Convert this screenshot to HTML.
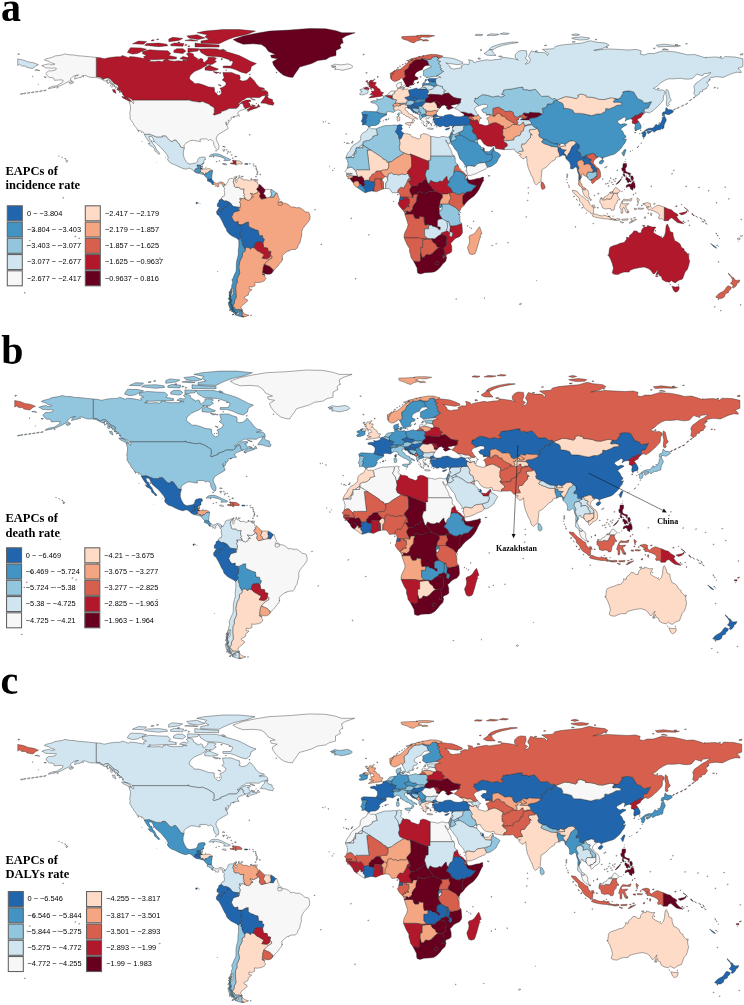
<!DOCTYPE html>
<html><head><meta charset="utf-8"><title>EAPC maps</title>
<style>
html,body{margin:0;padding:0;background:#fff}
body{width:744px;height:1005px;position:relative;overflow:hidden;font-family:"Liberation Sans",sans-serif}
svg{position:absolute;left:0;top:0}
.m use{stroke:#262626;stroke-width:0.4;stroke-linejoin:round}
</style></head><body>
<svg class="m" width="744" height="1005" viewBox="0 0 744 1005">
<defs>
<path id="AFG" fill-rule="evenodd" d="M510.2 126.5L507.2 127.6L505.8 128.8L503.6 128L502.4 130.7L503 132.3L502.4 133.4L503.2 136.5L504.8 136.9L503 139.9L506.2 140.8L513.9 140L514.1 137.7L517.3 136.1L519.9 135.6L521.1 133.2L521.3 131.5L523.3 131.1L523.7 129.2L524.5 126.5L527.4 125.5L530.6 125.1L531.2 124.6L528.4 124.2L526.4 125.1L524.3 125.1L523.9 122.4L522.3 122.6L521.7 123.8L519.9 124.9L516.9 124.6L514.3 124.2L512.3 124.6Z"/>
<path id="AGO" fill-rule="evenodd" d="M406.1 210.9L403.8 211.3L404.5 212.2L404.9 213.8L406.5 213.8L406.5 211.3ZM417.4 237.9L422.6 238.9L427.4 238.3L424.6 235.4L424.6 228.8L428.7 228.8L428.7 224.4L425 225L424.2 221.5L424.2 216.9L419.4 216.3L419.2 218.4L415.8 218.6L414.5 217.4L413.5 214L407.1 214L404.9 214.2L405.5 216.3L406.9 220.5L408.1 224.6L407.3 227.7L405.1 231.9L404.1 235L404.1 237.7L407.5 237.9L408.5 237.9Z"/>
<path id="ALB" fill-rule="evenodd" d="M422.6 117.1L421.6 115.7L421.8 114.9L420.6 113.7L419.4 114.9L419.2 115L419.6 115.7L419.4 117.8L420.4 119L420.7 119.4L421.6 118.6Z"/>
<path id="ARE" fill-rule="evenodd" d="M486.3 154.3L491.5 154.7L492.5 152L493.1 150.2L493.9 150.2L494.1 149.9L493.9 148.9L493.8 148.4L493.3 148.3L493.3 147.7L492.1 148.9L489.1 151.8L486.1 151.6L484.3 151.4L484.3 151.6Z"/>
<path id="ARG" fill-rule="evenodd" d="M248.9 247.6L246.9 247L244.9 249.1L245.3 249.5L244.7 251.6L242.5 252.6L242.3 256.3L239.9 260.9L239.3 264L238.7 267.1L239.3 270.2L239.7 272.7L238.3 276.5L237.1 278.5L237.3 282.3L235.9 284.8L235.7 288.9L235.9 293.1L236.3 297.2L234.6 300.3L234.2 303.4L232.4 306.5L234.6 307.6L235.2 309.6L239.3 309.6L242.5 310.3L240.9 307.6L241.5 306.1L244.1 304L247.5 301.1L247.3 299.7L244.3 298.2L244.3 297L248.3 295.1L248.7 292.2L250.8 290.8L252 289.5L249.1 288.9L249.4 286.4L251.8 287.2L255 285.8L254.8 282.3L257.4 282.7L261.4 282.1L264.1 281L266.1 278.3L264.7 276.9L265.1 275L264.7 274.8L262.6 274.4L262.6 273.6L262.6 272.3L263.1 270.2L263.1 268.2L263.9 265.7L264.3 264.4L267.5 260.9L269.5 259.5L271.9 258.2L272.1 256.1L270.3 254.9L270.1 256.8L267.9 258.6L266.5 258.8L262.2 258.2L264.3 254.5L261.8 253.2L259.4 251.6L257.4 250.7L254.2 247.8L251.6 247.4L250.8 249.1ZM248.9 315.2L246.3 314.6L244.3 313.6L242.9 312.1L242.1 310.9L242.1 316.9L243.3 317.1L246.3 316.3ZM251.7 315.3L250.8 315.2L250.3 315.4L251.2 315.5Z"/>
<path id="ARM" fill-rule="evenodd" d="M468.3 118.4L470.6 119.5L471 119.9L473.2 121.1L474 121.1L474 119.9L473 118.4L472 117.4L471 116.1L467.9 116.6Z"/>
<path id="ATG" fill-rule="evenodd" d="M255.4 166.7L256.2 166.7L256.2 165.9L255.4 165.9Z"/>
<path id="AUS" fill-rule="evenodd" d="M645 225.4L642.6 225.4L642.8 226.3L644.2 226.5ZM655.4 230.4L655 231L655.6 231.3L656 230.6ZM661.3 235.9L661 236.4L661.4 236.5L661.6 236.1ZM664.4 236L662.3 238.3L660.3 236.6L656.3 234.6L653.3 232.5L654.3 229.4L655.9 227.1L652.3 227.1L647.4 225.4L647.2 226.9L644.2 227.1L643.2 227.9L641.6 230L641.2 232.7L638.6 232.9L637.2 231.3L634.1 230.8L632.1 233.5L629.5 235.4L629.1 237.9L626.5 237.1L626.7 239.1L624.1 242.5L620 243.3L617 244.7L614 245.4L610.4 247L609.4 248.7L609 252.6L608.6 255.7L610.4 258.8L612.4 264L613.4 268.2L612.2 272.9L614 274.2L618 274.6L621 273.1L624.1 272.1L629.1 272.1L630.1 270.2L634.1 268.8L640.2 267.5L644.2 267.1L648.2 268.4L650.7 270.2L653.1 273.8L654.3 274L657.9 269.4L657.9 270.2L655.9 275L657.7 274.8L658.3 272.9L659.3 275.6L661.3 276.5L662.3 279.6L665.4 281.4L669.4 282.3L671.4 280.6L672.4 281.4L675.2 282.9L678.5 280.4L682.5 279L684.1 274.8L685.1 271.9L687.5 269.2L688.5 266.1L689.7 261.3L688.9 258.8L688.7 255.3L686.5 252.6L684.1 250.5L684.1 248.9L681.5 247.4L680.1 244.1L677.5 242L674.8 240.8L673.2 236L673 232.7L670 231.5L669.4 228.3L667.4 224L666.4 225L665.8 228.3L665.6 231.9ZM688.7 254.4L689 254.9L689.1 253.7L688.9 253.2ZM608.1 254.5L608 255.4L608.2 255.7L608.3 254.8ZM658.3 276L655.7 275.8L655.7 276.5L657.3 276.7ZM670.4 284.1L670.2 284.7L670.5 285L670.6 284.3ZM678.2 284.9L678.6 285.2L678.8 284.6L678.4 284.3ZM677.5 291.4L679.1 289.3L679.1 286.6L675.4 287L671.8 286.2L672.8 288.5L673.6 290.6L675.4 292.2Z"/>
<path id="AUT" fill-rule="evenodd" d="M408.1 100.6L406.1 102L406.5 103.3L404.5 103.1L401.5 103.3L399.6 103.3L399.4 104.1L401.3 104.5L404.5 104.3L405.3 104.9L407.9 105.4L410.5 105.2L412.7 104.5L413.5 103.3L414.7 102.2L414.3 101L410.5 100.2Z"/>
<path id="AZE" fill-rule="evenodd" d="M473.8 114.9L474 116.6L471 116.1L472 117.4L473 118.4L474 119.9L474 121.1L476 119.9L477.6 120.1L477 121.3L478.8 122.2L479.4 120.5L480 118.4L481.6 118L480 117.4L478.6 115.3L478.5 115.1L478.2 115.1L476 116.1ZM473.2 121.1L471 119.9L472 120.9Z"/>
<path id="BDI" fill-rule="evenodd" d="M439.5 210.9L440.7 210.9L442.3 208.4L442.3 206.6L440.7 206.8L440.5 207.6L438.7 207.4L439.1 208.6L439.1 210.9Z"/>
<path id="BEL" fill-rule="evenodd" d="M391.8 95.6L390.4 95.2L387.1 95.2L385.3 95.8L386.3 96.4L388.6 97.5L390 98.1L392 99.1L392.4 97.7L392.4 96.4Z"/>
<path id="BEN" fill-rule="evenodd" d="M387.8 180.4L387.6 177.5L385.1 176.3L383.1 178.2L382.1 179L381.9 180.2L383.3 182.1L383.5 187.3L383.5 188.9L385.7 188.5L385.9 183.1Z"/>
<path id="BFA" fill-rule="evenodd" d="M374.7 182.1L374.7 179L380.3 178.8L382.1 179L383.1 178.2L385.1 176.3L384.7 175.9L382.1 173.6L380.7 170.9L379.3 170.7L376.3 171.1L374.3 173.4L371.8 174.4L371.4 175.9L369.6 177.3L369.2 180.2L370.8 181.7Z"/>
<path id="BGD" fill-rule="evenodd" d="M565.2 154.1L564 153.7L564 152L566.4 150L561.2 149.3L561.2 147.9L558.4 146.8L557.8 148.3L558 151L559.2 153.7L559.6 156.6L562.6 155.1L565.2 155.5L566.2 158.9L566.9 156.4Z"/>
<path id="BGR" fill-rule="evenodd" d="M431.7 111.2L426.6 111L426 110.1L425.4 111.6L426.6 112.2L425.4 114.1L426.6 115.3L426.4 116L429.7 115.7L432.7 116.1L433.5 115.3L435.3 114.5L436.7 114.7L436.3 113.2L436.7 111.8L437.9 111L434.7 110.3Z"/>
<path id="BHS" fill-rule="evenodd" d="M223 146.3L222.6 146.8L223.3 147L223.7 146.4ZM224.8 147.5L225.2 146.8L223.6 146.2ZM224 150L224.7 150.2L225.1 149.7L224.5 149.5ZM226.7 149.6L226.2 150.1L227 150.3L227.4 149.8ZM222.8 149.7L223.8 151.6L224 150.4L223.2 149.5ZM227 153.2L227.8 153.4L228.2 152.9L227.5 152.7ZM228.1 151.2L227.6 151.8L228.4 152L228.8 151.4ZM229.6 152.2L230.4 152.4L230.8 151.8L230.1 151.7ZM231.1 155.1L231.8 155.3L232.2 154.7L231.5 154.6ZM234.7 156.7L235.4 157L235.5 156.8L236.2 157.1L236.6 156.5L235.9 156.3L235.6 156.8L235.8 156.4L235.1 156.2ZM232.8 158.5L233.2 158L232 158Z"/>
<path id="BIH" fill-rule="evenodd" d="M419 111.6L419.6 110.1L418.8 108.7L414.5 108.1L412.1 108.1L412.1 109.1L413.5 110.8L415.8 112.4L417.6 113.7L417.8 112.2Z"/>
<path id="BLR" fill-rule="evenodd" d="M433.9 86.3L433.9 87.3L432.3 89.2L429.7 89.8L427.6 89.9L428.4 92.5L427 93.3L427.8 95L430.7 94.2L434.7 94.6L438.7 94.8L441.7 95.2L444.4 93.7L443.8 91.7L445.8 90.8L442.3 88.1L442.6 86.5L437.1 85.2L435.9 86.1Z"/>
<path id="BLZ" fill-rule="evenodd" d="M201.2 168.8L201.2 166.5L202.5 166.5L202.6 165.5L202.6 163.6L203.8 163.6L203.9 162.9L202.4 163.4L201.4 164.7L200.6 164.9L200.6 168.8Z"/>
<path id="BOL" fill-rule="evenodd" d="M241.3 230.2L241.5 231.9L240.5 232.9L239.9 234.2L241.3 236L240.1 237.7L240.3 238.1L241.3 239.1L241.3 241.2L242.3 242.2L242.3 244.3L243.3 246.4L244.9 249.1L246.9 247L248.9 247.6L250.8 249.1L251.6 247.4L254.2 247.8L254.8 244.3L256 242.5L261.2 241.8L263.1 243.7L263.1 242.9L263.9 241.2L264.5 239.1L262.8 237.7L262.6 235.6L259.2 235.4L258.4 230.4L255.8 229.8L253.8 228.8L250.8 227.7L248.7 226.1L248.7 222.1L246.3 222.3L242.3 224.6L240.1 224.6L241.9 227.7Z"/>
<path id="BRA" fill-rule="evenodd" d="M280 263L282 261.1L282.4 258.8L282.4 255.7L283.8 254.1L287 251.6L290.2 250.1L291.2 249.9L291.3 249.9L291.4 249.8L292.7 249.5L295.7 249.5L297.7 247.4L298.1 245.4L300.1 242.5L300.7 239.1L301.7 236L301.7 231.9L302.7 228.8L304.8 225.9L307 223.4L309.8 219.8L310.2 216.7L309.4 213.4L308.8 212.4L305.4 211.8L302.7 209.5L299.7 207.6L296.7 207.8L293.1 206.8L291.1 207.4L290.7 206.4L288.6 204.7L285.6 203.3L283.6 203.3L282.8 202.4L281.2 201.2L279.2 202L278.4 201.2L279.8 199.5L278.6 197.7L277.2 193.1L276.4 192.9L276.1 193.3L274.5 195.6L273.7 197.2L270.3 197L267.7 197.7L266.5 197.9L263.5 198.7L261.4 199.1L259.6 196.6L260.4 193.7L259.8 192.7L259.4 191.4L258 191L257.4 192.5L253.8 194.1L250.4 193.1L250.8 194.5L253.4 196.8L251.4 196.8L251 198.9L248.5 200.3L245.5 199.3L245.1 198.3L243.3 198.3L239.7 198.3L239.7 199.5L240.9 199.7L239.3 202.2L240.5 203.9L239.3 210.5L233.6 212.2L232.8 214.2L231.6 216.9L233.2 220.5L234.6 221.5L234.8 222.5L238.1 221.5L238.1 224.6L240.1 224.6L242.3 224.6L246.3 222.3L248.7 222.1L248.7 226.1L250.8 227.7L253.8 228.8L255.8 229.8L258.4 230.4L259.2 235.4L262.6 235.6L262.8 237.7L264.5 239.1L263.9 241.2L263.1 242.9L263.1 243.7L263.7 247.6L267.5 248.1L268.1 251.2L270.9 251.6L270.3 254.9L272.1 256.1L271.9 258.2L269.5 259.5L267.5 260.9L264.3 264.4L267.5 265.7L268.3 266.1L270.5 267.1L272.1 269.2L273.1 269.6L272.7 271.7L272.7 271.9L275.3 268.6L278 266.1ZM289 251.1L288.9 251.3L289.1 251.4L289.2 251.2ZM282.6 258.7L282.5 259.2L282.6 259.4L282.7 258.9Z"/>
<path id="BRB" fill-rule="evenodd" d="M259.8 174.8L260.6 174.8L260.6 174L259.8 174Z"/>
<path id="BRN" fill-rule="evenodd" d="M610.4 193.3L612.4 193.1L612.8 191.5L612.7 191.5L610 192.3Z"/>
<path id="BTN" fill-rule="evenodd" d="M561.2 146.4L565.8 146L564.8 144.1L561.4 143.1L559.4 145.2L559.4 146Z"/>
<path id="BWA" fill-rule="evenodd" d="M427.2 239.1L422.6 239.8L422.6 247.4L420.6 247.4L420.6 253.2L422 257.4L424.2 257.2L426.2 254.5L429.7 255.1L432.3 253.7L434.5 251.2L437.3 248.7L439.5 247.8L436.7 246.4L436.1 244.3L433.1 242.2L431.3 238.7L428.7 239.1Z"/>
<path id="CAF" fill-rule="evenodd" d="M413.9 194.5L417.8 194.5L417.8 192.9L419.6 191.2L421.6 192.7L425.6 193.3L429.5 191.2L431.3 191.4L435.5 191.2L433.7 189.4L431.1 186.2L429.1 183.8L428 183.1L426.4 179L424 179.8L421.4 182.9L418.6 183.1L417.8 185.2L414.5 185.8L411.5 186.2L409.5 189.4L409.7 191.4L410.9 193.9L412.9 197.7L413.5 196Z"/>
<path id="CAN" fill-rule="evenodd" d="M158 39.8L158.9 39.2L157.4 39L156.5 39.6ZM168.8 41.7L178.8 40.4L182.9 38.4L172.8 37.3L168.8 39ZM153.1 41.1L154.3 40.1L152.3 39.8L151 40.7ZM180 42.3L178.6 42.1L177.6 42.7L179.2 42.9ZM146.6 41.5L138.5 41.1L132.5 43.8L143.6 44.2ZM170.8 45.8L182.9 46.3L183.9 43.6L174.8 42.9L170.8 44.2ZM144.6 45.2L158.7 46.7L167.8 45.8L166.8 44.2L158.7 43.1L146.6 43.6ZM130.5 47.7L128.5 50.4L127.5 52.5L132.5 54.1L137.5 53.5L143.6 50.6L146.6 49.2L140.6 47.9ZM176.1 59L176.8 58.5L175.6 58.4L176.8 57.2L168.8 55.6L170.8 53.5L167.8 50.8L158.7 50.4L149.6 49.8L142.6 51.4L142.6 53.7L146.6 55.4L143.6 56.6L144.5 58.5L142.6 58.3L135.5 57L129.9 56.6L128.5 57.7L124.4 56.2L122.4 55.6L120.4 56.8L116.4 56.8L110.3 57.4L107.3 58.1L104.3 58.7L100.3 57.7L96.2 57.4L96.2 76.7L99.9 77.2L103.3 79.6L105.3 78.4L108.1 78L110.3 79.6L114 83.4L118 85.4L118.4 87.3L117.5 88L118 89L120.4 90.6L122.6 92.9L123 94.8L124.4 96.4L128.5 97.7L131.5 99.1L132.5 100.2L188.5 100.2L188.5 99.3L189.5 100.6L195 101.6L200 102.2L202.4 101.6L209.5 104.5L210.1 105.4L212.1 106.4L214.1 107.8L214.3 112.6L213.1 114.3L214.1 115.3L221.1 113L221.1 111.8L226.2 110.1L229.2 108.5L236.3 108.5L238.7 106.6L239.3 104.9L240.9 103.5L242.9 103.7L243.7 106.8L245.3 108.7L245.5 108.8L247.3 108.1L250 107L250.4 107.8L247.3 109.5L247.2 110L248.7 111.1L250.8 109.9L253.4 109.1L257.4 107.8L258.8 106.8L259.6 107L260 106.4L259.5 106.3L259.6 106.2L258.4 104.3L257 107L254.4 106.8L250.4 106L249.8 104.1L249.4 102.9L247.7 102L250.8 101.4L250.4 100L246.3 100L242.3 101.6L239.3 104.1L237.3 104.5L239.3 102.9L242.1 100.4L244.7 99.3L246.7 97.7L253.4 97.5L259.4 97.7L262 96L265.7 95.2L268.1 94L267.9 92.3L265.9 90.6L259.4 90.6L264.9 89.2L263.5 88.1L259.8 87.3L258.8 86.5L256.4 84L254.4 81.1L251 77.4L249.8 76.7L247.7 79.4L245.3 80.7L242.3 81.1L239.3 79.8L240.3 78.4L239.7 75.3L235.7 74.2L231.6 72.4L227.2 72.4L222.8 72.6L223.6 76.1L224.2 77.8L222.2 80.1L226 82.5L226 84.4L224.2 86.5L219.9 88.4L221.1 89.8L221.5 92.9L220.1 95L218.1 95.4L216.5 93.5L214.7 91.9L214.3 87.5L208.7 86.9L203 84.8L199 83.6L194.2 83.6L193.3 81.9L190.5 80.1L189.3 78.2L190.1 75.7L192.1 73.6L194.4 71.6L198.6 69.7L201.4 68.6L204.6 66.4L207.4 64.9L205.6 63.9L208.7 64.3L212.5 64.3L216.5 61.6L214.5 60.1L216.5 58.5L214.1 57.2L208.1 57.2L207.9 59.3L204.4 62.4L203 61.6L203 59.5L201 58.3L198 59.7L197.3 59L197.8 58.5L196.8 58.3L196.7 58.3L196 57.4L193.9 56.6L193.3 53.9L190.5 52.9L188.9 52.5L186.5 53.9L188.5 56.2L187.4 57.5L182.9 56.6L179.8 58.7L186.9 59.7L186.9 60.4L182.9 59.7L182.9 61.2L177.8 60.8L174.8 61.2L169.8 60.8L167 59.2L174.8 59.1L175.1 58.9ZM152.7 59.7L162.7 59.3L166.4 59.3L163.3 60.4L162.7 61.8L158.7 61L154.7 61.4L147.6 61.2L150.6 60.4L149.1 59.3ZM118.5 89.6L117.9 89.4L117.5 90L118.2 90.2ZM113.4 91.9L116 93.5L115 89.8L112.4 89.6ZM120 92.5L120.4 91.6L119.7 91.3L119.2 92.1ZM122.8 97.9L126.5 99.8L129.3 101.2L131.7 101.2L128.9 98.7L126.5 97.3L125.7 97.1L125.9 97L125.4 96.9L125.2 97L121.8 96.4ZM188.9 38L198 39.6L205 38L197 34.8L186.9 35.9ZM192.9 41.1L198 40.9L190.9 39.4L184.9 40.4ZM187.1 44.7L185.6 44.5L184.7 45.2L186.3 45.5ZM219.1 47.1L219.1 45L201 43.8L195 43.1L195 46.9ZM189.2 46.7L189.9 46L188.7 45.8L187.9 46.4ZM199 48.7L187.9 48.3L187.9 52.3L198 51ZM173.8 52.5L182.9 53.5L185.9 51L182.9 48.7L176.8 48.7L173.8 50.4ZM210.2 65.2L210.7 64.8L209.9 64.6L209.5 65ZM205 67.4L205 70.1L211.1 70.7L217.1 70.1L218.5 69.1L214.1 67.4L209.1 65.3ZM213.1 71.6L216.1 73.4L219.1 72.6ZM218.1 84.6L220.7 86.1L221.1 85.2ZM217.7 91.9L217.2 91.8L216.9 92.2L217.4 92.4ZM247.3 34.2L255.4 31.1L239.3 29.5L223.2 29.5L205 31.1L197 32.8L207 34.8L205 36.9L209.1 39.4L201 41.1L201 43.3L219.1 43.8L223.2 41.7L229.2 39L235.2 36.9ZM220.2 49.9L217.1 48.9L209.1 48.7L199 48.9L201 52.5L207 56L215.1 56.6L221.1 57L229.2 59.7L230.4 60.3L230.1 60.2L229.4 61L230.5 61.3L230.9 60.6L233.2 61.8L231.2 66L223.2 66L223.2 67.8L230.2 68L235.2 69.5L241.3 72.2L246.3 73.4L250.4 70.5L251.4 66.4L256.4 63.5L251.4 61.8L244.3 58.1L239.3 55.6L231.2 53.1L223.2 50.8L222 50.4L226.2 50.8L223.2 49.2ZM222 59.7L222.5 58.8L221.6 58.5L221 59.4ZM226.4 70.3L226.8 70L226.1 69.9L225.6 70.2ZM220.9 72.7L220 72.5L219.3 73.2L220.4 73.5ZM250.4 74.1L249.6 73.9L249.1 74.4L249.9 74.6ZM219.9 92.2L220.2 91.7L219.6 91.6L219.2 92ZM250.4 98.3L252.4 99.6L255.4 100ZM272.5 99.6L268.5 98.3L267.5 96.4L268.5 94.8L265.5 95.6L264.5 98.1L262.4 100.4L260.8 103.1L265.5 103.3L268.5 104.5L273.1 105.2L274.1 103.1L272.5 101.2ZM256.5 103.7L256.8 103.4L256.3 103.2L256 103.6ZM251.4 104.7L253.4 106.4L255.4 105.6Z"/>
<path id="CHE" fill-rule="evenodd" d="M395.6 103.1L394.4 103.5L392.6 105.4L392.6 106L394 106L394.4 106.6L397.2 105.6L398.4 106.6L399 105.6L400.6 105.8L401.3 104.5L399.4 104.1L399.6 103.3L397.4 102.9Z"/>
<path id="CHL" fill-rule="evenodd" d="M217.5 271.5L217.3 271.8L217.6 271.9L217.8 271.6ZM231.1 292.5L230.8 293L231.3 293.2L231.6 292.7ZM229.5 294.3L229 295.5L229.8 296L230.2 294.7ZM228.5 304.5L228.6 304.6L228.8 305.5L230 308.6L232 310.9L234.2 312.6L236.5 313.6L237.5 313.2L237.5 311.3L240.3 310.5L242.5 310.3L239.3 309.6L235.2 309.6L234.6 307.6L232.4 306.5L234.2 303.4L234.6 300.3L236.3 297.2L235.9 293.1L235.7 288.9L235.9 284.8L237.3 282.3L237.1 278.5L238.3 276.5L239.7 272.7L239.3 270.2L238.7 267.1L239.3 264L239.9 260.9L242.3 256.3L242.5 252.6L244.7 251.6L245.3 249.5L244.9 249.1L243.3 246.4L242.3 244.3L242.3 242.2L241.3 241.2L241.3 239.1L240.3 238.1L238.7 239.8L238.6 239.9L238.7 240L238.9 245.4L238.3 250.5L238.3 254.7L237.5 257.8L236.7 260.9L236.3 264L236.3 268.2L236.1 271.3L234 275.4L233.2 277.9L232 279.6L232.8 283.3L231.8 284.8L231.6 288.5L233.8 288.3L233.2 289.9L233.2 294.1L230.8 296.4L228 298.7L230.2 300.9L228.2 302.4L228.6 304.2ZM229.9 309.2L229.4 310.4L230.2 310.9L230.6 309.6ZM230.8 288.7L230.4 291L232 291.8L232.2 288.9ZM239.3 313.8L237.3 314.4L235.2 314.8L237.6 315.7L237.5 315.8L238 315.8L239.3 316.3L242.1 316.9L242.1 310.9L238.7 311.3L238.5 312.8ZM242.3 316.6L243.6 316.7L244.3 316.4L243.1 316.3Z"/>
<path id="CHN" fill-rule="evenodd" d="M645.2 108.5L648.2 108.3L650.3 104.3L651.7 101.6L647.4 102.7L644.2 102.9L642.2 100.4L637.2 98.5L637.2 97.7L633.7 91.9L629.1 90.8L624.5 91.3L622.3 92.3L623.7 92.7L622.1 94.6L620.4 97.7L617.6 99.1L615.4 98.5L613.2 101.8L614 102.5L618 102.2L621.9 102.9L621.4 104.9L617 105.2L614 107L609.2 108.9L605.7 108.5L605.5 111.2L600.9 113.9L596.9 113.9L591.8 115.5L585.8 114.3L581.8 113.4L574.5 113.2L572.5 109.9L568.7 108.7L563.6 108.1L563.6 105.4L562.2 102.9L557.6 101.2L557.2 99.8L556.2 100L553.2 101.4L553 103.7L547.5 103.9L546.1 107.4L542.1 108.5L543.1 112.2L541.9 114.3L537.4 116.8L534.4 117.8L532.4 117.8L529.4 118.6L528.8 120.1L531.2 122.2L531.2 124.6L532.4 125.5L535 127.8L537 128.2L538 130L538.8 131.3L539.5 133.8L538.4 134.4L539.5 137.1L543.5 139.2L546.5 139.8L549.5 141.9L553.6 143.7L557.8 143.9L559.4 145.2L561.4 143.1L564.8 144.1L565.6 144.1L569.7 141.2L573.7 140.8L576.3 143.1L578.9 144.8L579.1 148.3L576.9 150.4L576.9 152.2L579.3 152L580.8 154.3L580.1 156L582 157.2L584.1 157L585 157.8L585.4 157.8L585 155.8L586.2 155.3L588.8 154.7L592.4 153.5L595.3 154.5L595.3 156.4L597.9 157.2L598.9 156.8L601.5 157.4L601.7 157.9L602.9 158.1L602.9 157.8L605.9 156.8L609 155.8L610.6 155.3L614 154.3L616 153.1L618 151.2L620 149.5L621.4 147.9L623.1 145.2L625.1 142.7L626.1 139.6L623.1 139L625.7 137.7L625.7 136.5L626.1 136.2L625.7 136.1L624.1 134.4L622.7 131.3L620.6 129.2L623.1 126.9L626.1 125.3L627.1 124.4L624.1 123.6L621 124.6L619.6 124L617.4 122L618 120.5L621 119L624.1 117L626.1 117.8L625.1 121.3L627.1 119.7L630.9 118.8L633.1 117.4L636 115.1L638.6 115.9L638.2 114.7L641.8 112.6L643.4 113.7L644.8 111.8L644.2 110.5ZM626.8 139.3L626.4 139.2L626.2 139.5L626.6 139.6ZM601.1 164.1L602.9 162.8L603.9 161.1L603.1 160.1L600.9 160.3L599.3 162L599.3 163.4Z"/>
<path id="CIV" fill-rule="evenodd" d="M374.9 185.2L374.7 182.1L370.8 181.7L369.2 180.2L367.8 180L364.2 180.6L363.8 183.1L364.8 184.4L363.6 186L363.6 188.3L365.2 189.8L365.2 192.7L368.2 191.8L371.2 191L374.1 191.2L373.9 188.3Z"/>
<path id="CMR" fill-rule="evenodd" d="M407.1 197.2L409.5 197.2L412.9 197.7L410.9 193.9L409.7 191.4L409.5 189.4L411.5 186.2L408.5 181.1L411.5 181.1L410.7 179.4L410.5 176.9L408.9 174.8L408.9 175.9L409.7 177.9L408.1 179L406.9 181.9L406.1 183.8L404.5 186.2L403.5 188.1L401.5 187.3L400 187.7L398.2 189.8L397.6 191.8L397.6 192.5L398.2 192.5L399.6 193.7L400.2 195.6L400 197L403.1 197.2Z"/>
<path id="COD" fill-rule="evenodd" d="M413.5 214L414.5 217.4L415.8 218.6L419.2 218.4L419.4 216.3L424.2 216.9L424.2 221.5L425 225L428.7 224.4L429.5 225.4L431.5 225L432.7 226.5L434.7 226.7L435.9 227.3L437.7 228.1L438.7 229.6L440.3 229.6L440.3 227.1L437.5 226.5L437.5 221.1L438.5 219.4L442.3 218.8L439.5 214.2L439.1 210.9L439.1 208.6L438.7 207.4L439.9 204.7L439.9 202.8L440.7 200.1L442.8 197.2L442.3 194.5L439.7 192.7L435.5 191.2L431.3 191.4L429.5 191.2L425.6 193.3L421.6 192.7L419.6 191.2L417.8 192.9L417.8 194.5L416.6 197.7L416.2 201.8L414.1 204.3L412.5 207L412.5 209.1L411.1 210.7L409.3 212L407.9 211.1L406.5 211.3L406.5 213.8L404.9 213.8L404.9 214.2L407.1 214Z"/>
<path id="COG" fill-rule="evenodd" d="M406.5 211.3L407.9 211.1L409.3 212L411.1 210.7L412.5 209.1L412.5 207L414.1 204.3L416.2 201.8L416.6 197.7L417.8 194.5L413.9 194.5L413.5 196L412.9 197.7L409.5 197.2L407.1 197.2L406.9 199.1L409.1 198.9L409.5 202.8L408.3 204.9L409.3 206.6L405.5 206.6L406.1 208L404.1 208.4L404.1 209.5L402.7 209.9L402.9 210.1L403.8 211.3L406.1 210.9Z"/>
<path id="COL" fill-rule="evenodd" d="M224.2 201L226.6 201L228.6 202L230.2 202.8L233.2 206.6L235.2 206.8L239.3 207.4L237.9 209.7L239.3 210.5L240.5 203.9L239.3 202.2L240.9 199.7L239.7 199.5L239.7 198.3L243.3 198.3L245.1 198.3L245.5 199.3L244.9 197L243.7 196L244.7 194.7L243.7 193.1L243.7 190.8L244.3 188.9L240.5 189.1L239.1 187.3L235.2 187.3L234.4 186.5L234.2 184.2L233.2 182.1L234.2 178.8L236.6 177.4L236.7 177.3L236.8 176.8L236.7 176.1L234.8 176.9L232.8 178.4L230.8 178.4L229.6 178.8L228.2 179.8L228 181.9L226.6 183.3L225.6 185.4L224.6 184L224.2 185.2L223.4 186.9L224.6 188.1L224.2 190.4L224.8 193.9L224.2 196.2L222.4 196.4L221.5 198.1L221.3 198.9L221.5 198.9Z"/>
<path id="COM" fill-rule="evenodd" d="M467.5 226.5L467.9 225.9L467.3 225.4ZM469.5 227.5L469.9 227.3L469.5 226.9Z"/>
<path id="CPV" fill-rule="evenodd" d="M329.7 166.7L330.1 166.3L329.3 166.3ZM334.6 168.2L334 168.2L334.3 168.6ZM333.2 170.3L332.4 170.1L332.8 170.9Z"/>
<path id="CRI" fill-rule="evenodd" d="M209.7 178.8L207.6 178.8L207.5 178.8L207.6 179L207.4 180.9L209.1 181.5L209.9 181.9L211.7 182.9L211.9 184.2L212.9 184.6L213.3 184.6L213.3 182.9L213.9 181.9L213.1 181.1L211.9 179.4L211.8 179.2L211.7 179.2Z"/>
<path id="CUB" fill-rule="evenodd" d="M213.7 157.3L214.1 156.7L213.4 156.5L212.9 157ZM211.1 156.6L212.7 156L215.5 155.8L219.1 156.6L222.2 157.4L225.2 159.1L223.8 160.6L229.2 160.5L230.8 159.7L227.8 158.2L224.2 156.6L221.1 155.1L218.1 153.9L214.1 153.7L211.1 154.5L209.1 156.4Z"/>
<path id="CYP" fill-rule="evenodd" d="M445.4 129.2L446.8 128.6L450 127.8L448.8 129.2L446.8 130L445.6 129.8Z"/>
<path id="CZE" fill-rule="evenodd" d="M413.5 97.5L411.5 96.4L410.1 96.2L409.1 96L406.5 97.1L404.7 97.5L405.5 98.7L408.1 100.6L410.5 100.2L414.3 101L416.6 100.2L418.2 99.1L416.2 97.5Z"/>
<path id="DEU" fill-rule="evenodd" d="M394.4 93.3L392.4 94.4L392.4 96.4L392.4 97.7L393.2 99.1L396.8 100.2L395.6 101.6L395.6 103.1L397.4 102.9L399.6 103.3L401.5 103.3L404.5 103.1L406.5 103.3L406.1 102L408.1 100.6L405.5 98.7L404.7 97.5L406.5 97.1L409.1 96L410.1 96.2L409.7 94L408.9 91.9L408.9 90L407.5 89L404.5 89.4L402.5 89.8L402.3 89.2L400.2 88.1L397.6 87.9L397.8 89.8L396.8 90.6L394.4 91L394.8 91.5Z"/>
<path id="DJI" fill-rule="evenodd" d="M464.5 179L466.7 179.2L467.5 178.1L466.5 177.7L467.5 177.7L467.7 176.9L467.1 175.5L465.7 175.9Z"/>
<path id="DMA" fill-rule="evenodd" d="M256.2 170.3L257 170.3L257 169.4L256.2 169.4Z"/>
<path id="DNK" fill-rule="evenodd" d="M402.3 84.8L401.1 84.4L401.5 82.1L397.6 83.4L396.8 84.2L396.6 86.5L397.6 87.9L400.2 88.1L399.6 87.3L400.1 86.8L400.4 87.5L402.1 87.5L401.9 86.7L400.2 86.7L400.8 86.1ZM403.9 87.7L404.9 87.3L405.7 86.3L404.5 85.4L402.7 86.3L402.7 87.1ZM409.9 87.1L410.1 87.7L410.7 87.5ZM404.5 87.9L402.5 87.9L402.5 88.4L404.1 88.6Z"/>
<path id="DOM" fill-rule="evenodd" d="M235.9 164.9L236.3 165.3L237.3 164.1L239.3 163.8L241.9 164.1L242.5 163L240.9 161.8L239.3 160.9L235.9 160.7Z"/>
<path id="DZA" fill-rule="evenodd" d="M376.9 133.4L377.9 134.8L375.3 135.4L372.8 136.3L372.8 137.7L370.2 139.6L368.8 140.4L365.2 140.8L362.8 142.3L362.8 144.4L362.8 145.2L370.6 150L382.7 158L382.7 158.9L386.7 160.7L386.9 162.4L388.8 162.2L392 161.4L395.4 158.7L404.5 153.1L400.4 151L399.2 147.5L400.2 143.7L399.4 139.2L398.4 135.4L395.4 131.5L397 129.2L397.6 125.3L395.4 125.1L393.4 125.1L390.4 125.5L386.3 125.5L383.3 126.1L380.5 127.1L378.3 127.8L375.9 129L376.9 131.3Z"/>
<path id="ECU" fill-rule="evenodd" d="M197.7 202.3L197.5 202.2L197.4 202.4L197.6 202.4ZM198.5 202.9L198.1 202.8L197.9 203.1L198.3 203.3ZM197 203.9L197.4 202.6L196 202.4L196 203.7ZM200 203.4L199.8 203.6L200.1 203.7L200.2 203.5ZM221.3 198.9L219.1 200.1L218.9 201.8L217.3 203.9L217.3 206.6L219.5 207L218.5 208.9L218.5 210.1L220.1 211.1L221.1 212.2L222.4 209.7L223.2 208L226.2 207L228.2 204.9L228.6 202L226.6 201L224.2 201L221.5 198.9L221.3 198.9Z"/>
<path id="EGY" fill-rule="evenodd" d="M454.6 156.2L452 154.1L451.8 152L450.4 148.9L448.6 145.8L448 144.1L446.8 142.7L445.6 140.4L446 139.8L446.6 141.7L447.8 143.1L449.2 144.1L449.6 143.3L450.6 140.6L449.2 136.9L447.2 137.3L445.4 136.9L443.8 136.5L441.7 136.5L438.7 137.7L434.7 136.9L430.7 136.3L430.7 156.2Z"/>
<path id="ERI" fill-rule="evenodd" d="M461 169.3L461.2 168.9L460.8 168.8L460.6 169.1ZM456.7 171.1L460.9 171.9L465.7 175.9L467.1 175.5L465.7 174.4L463.3 171.7L461.3 170.7L459.9 169.4L459.3 168.6L457.9 164.5L454.8 166.5L453.8 172.1Z"/>
<path id="ESH" fill-rule="evenodd" d="M362.8 145.2L362.8 144.4L361.2 145.4L357.9 147.9L362.8 147.9ZM356.1 153.3L356.1 149.5L353.7 154.1L351.1 156.6L347.5 157.4L346.1 157.5L346.1 157.6L354.1 157.6L354.1 154.1Z"/>
<path id="ESP" fill-rule="evenodd" d="M388 118.8L388.8 119.2L389 118.9ZM368.6 111.4L364.2 111.2L361.6 112.6L362.4 114.9L363.8 114.5L367 114.9L367.8 115.7L366.4 117L366.4 118.8L365.2 119.7L366.2 120.9L365.6 122.6L365.2 124L365.4 124.6L367.4 125.5L368.2 126.7L369.6 126.9L371.4 125.7L375.7 125.5L376.7 125.1L378.9 123.8L379.3 122.4L380.7 121.3L379.7 120.3L379.9 119.5L381.9 117.4L384.5 116.1L386.7 114.9L386.7 113.9L383.3 113.7L380.3 113.2L376.7 111.8L372.6 111.6ZM387.1 119.5L386.7 118.9L385.1 119.7L385.5 120.1L386.5 120.3ZM382.9 120.9L383.3 121.2L383.5 120.7ZM352.3 141.2L352.9 141.9L353.3 141.2ZM344 142.1L344.3 142.7L344.6 142.1ZM351.3 142.5L352.1 143.5L352.5 142.3ZM347.3 143.6L347.7 142.7L346.3 143.1ZM348.9 144.1L349.3 143.5L348.5 143.5Z"/>
<path id="EST" fill-rule="evenodd" d="M426.4 77.4L426.6 77.6L427.4 77.5ZM426.6 79.4L425 79.6L425.8 80.1ZM435.7 79.8L436.7 78.6L436.8 78.3L436.7 78.4L433.7 78.4L430.1 78.4L427.6 79L428 80.7L429.5 81.7L430.7 81.5L432.7 81.9L435.7 82.3ZM426.2 80.9L426.6 80.3L424.4 80.9L425 81.5Z"/>
<path id="ETH" fill-rule="evenodd" d="M450.8 177.3L449.4 179.8L449 182.1L446.8 185.2L450.4 187.9L452.6 192.3L454.4 192.7L456.9 194.3L459.9 194.7L462.5 193.1L464.7 193.7L466.9 192.1L471 191.4L477 185.2L475 185.2L468.9 183.3L467.9 182.3L466.7 179.2L464.5 179L465.7 175.9L460.9 171.9L456.7 171.1L453.8 172.1L453.2 175.5Z"/>
<path id="FIN" fill-rule="evenodd" d="M440.7 69.7L441.7 68.6L440.1 67.4L440.7 65.5L438.7 63L440.7 61.4L437.7 60.4L438.5 58.6L436.9 56.9L436.3 56.4L432.7 57L430.7 59.5L426.6 59.3L423.6 58.1L421.6 58.6L427.6 61L427.8 62.4L428.7 64.5L429.1 65.3L431.5 66.8L429.7 67.4L425.6 69.5L423.2 70.7L423.6 72.2L423.2 75.3L425.2 76.5L426.4 77.4L427.4 77.5L430.7 76.9L436.3 76.3L440.7 73.6L443.8 71.3ZM420.8 77.4L421.2 76.7L419.8 76.7Z"/>
<path id="FJI" fill-rule="evenodd" d="M741.5 236.6L742.7 235.4L740.3 236.2ZM739.9 239.5L740.1 238.1L737.5 238.1L737.5 239.3ZM738.9 241.1L738.7 241L738.5 241.3L738.8 241.4Z"/>
<path id="FRA" fill-rule="evenodd" d="M394.4 106.6L394 106L392.6 106L392.6 105.4L394.4 103.5L395.6 103.1L395.6 101.6L396.8 100.2L393.2 99.1L392 99.1L390 98.1L388.6 97.5L386.3 96.4L385.3 95.8L383.5 96.2L383.3 97.9L380.7 99.1L378.1 99.3L376.7 98.7L377.1 101L374.3 100.6L370.8 101.4L371.2 102.7L374.7 103.3L376.1 104.3L377.9 106L378.1 107.4L377.9 109.5L376.7 111.8L380.3 113.2L383.3 113.7L386.7 113.9L386.3 112.4L388.4 111.6L390.4 111.8L393.4 112.4L395.4 111L394.4 109.9L393.8 108.3ZM397.6 114.9L398.8 115.9L399.4 114.7L399.2 112.6L397.6 113.9Z"/>
<path id="FRO" fill-rule="evenodd" d="M365.6 72.8L367.2 72.6L366.6 73.6Z"/>
<path id="GAB" fill-rule="evenodd" d="M404.1 208.4L406.1 208L405.5 206.6L409.3 206.6L408.3 204.9L409.5 202.8L409.1 198.9L406.9 199.1L407.1 197.2L403.1 197.2L403.1 199.7L399.4 199.7L399 201.8L398 203.3L399 205.5L400.4 207.6L402.7 209.9L404.1 209.5Z"/>
<path id="GBR" fill-rule="evenodd" d="M377.3 76.3L377.7 77.6L378.3 76.7ZM373.7 79.2L374.5 79.8L375.1 79.2ZM367.8 80.5L365.8 81.1L366.2 81.9L367.6 81.5ZM368.2 82.3L367 82.5L367.4 83.2L368.6 83.4ZM367.6 84.6L368.2 85L368.8 84.6ZM367.6 89.6L368.3 89.7L369.2 89L368.8 88.1L367.8 87.3L365.7 87.1L365.6 87.6L364 88.8L365.6 89.6ZM380.3 96.4L383.1 95.6L381.7 95L383.7 92.5L380.9 91.9L380.3 90.6L379.9 89.2L377.3 87.7L376.3 85.9L374.3 85.7L375.3 84.6L376.3 82.5L373.2 82.1L372.2 82.3L373.9 80.3L370.2 80.3L368.8 82.5L369.2 84.6L369 86.9L370.6 86.7L370.2 88.4L373.2 87.9L374.3 89.8L374.3 91L371.2 91.3L371.8 92.3L372.2 93.1L369.8 94.2L372.2 94.8L374.3 95.2L371.6 95.8L368.8 98L373.2 97.5L376.3 96.9ZM370.8 89.2L371 89.7L371.6 89.2Z"/>
<path id="GEO" fill-rule="evenodd" d="M471 116.1L474 116.6L473.8 114.9L471 113.2L468.5 113.4L464.9 112.2L460.9 111.8L460.7 111.9L461.5 112.4L463.9 113.9L464.1 115.5L463.9 115.7L467.9 116.6Z"/>
<path id="GHA" fill-rule="evenodd" d="M381.3 184.2L381.3 181.1L380.3 178.8L374.7 179L374.7 182.1L374.9 185.2L373.9 188.3L374.1 191.2L376.3 191.8L380.3 190L382.7 189.1L381.7 187.3Z"/>
<path id="GIN" fill-rule="evenodd" d="M357.7 181.1L358.9 182.5L359.5 184.2L361.4 184.4L361.4 186.5L363.6 186L364.8 184.4L363.8 183.1L364.2 180.6L363.6 178.2L361.6 175.9L358.7 176.9L357.3 176.1L352.7 175.7L352.7 177.5L350.7 177.9L349.9 178.8L350.1 179L350.7 179.8L352.1 181.5L353.5 183.1L355.1 181.3Z"/>
<path id="GLP" fill-rule="evenodd" d="M255.8 168.6L256.6 168.6L256.6 167.8L255.8 167.8Z"/>
<path id="GMB" fill-rule="evenodd" d="M352.5 173.8L350.1 173.2L346.7 173.4L346.5 174L346.5 174.5L350.1 174.4Z"/>
<path id="GNB" fill-rule="evenodd" d="M352.7 175.7L350.1 175.5L346.7 176.1L348.1 177.3L349.9 178.8L350.7 177.9L352.7 177.5ZM348.5 178.2L348 178.1L347.7 178.5L348.2 178.6ZM348.9 178.8L348.6 178.7L348.4 178.9L348.7 179Z"/>
<path id="GNQ" fill-rule="evenodd" d="M397.8 195.2L398.2 194.3L397.6 194.1ZM400 197L399.4 199.7L403.1 199.7L403.1 197.2Z"/>
<path id="GRC" fill-rule="evenodd" d="M420 119.3L420.4 120.1L420.6 119.9ZM424.6 116.6L422.6 117.1L421.6 118.6L420.7 119.4L421 119.7L422.6 121.3L424 122.4L423 123.6L423.6 124.7L424.8 125.8L425.4 126.1L426.6 126.1L427 124.4L426.6 123.2L427.6 123L428.5 123.5L428.7 123.2L428.7 123L426.2 121.3L426.6 120.5L425.8 118.8L426.4 117.8L427.2 118.4L428.7 118.8L428.7 117.4L430.7 117L432.7 117L433.3 117L433.5 115.3L432.7 116.1L429.7 115.7L426.4 116ZM429.1 121.7L427 121.1L427.4 121.5L428.7 122.6L429.7 123ZM421.6 122.8L422.2 122.8L421.6 122.4ZM430.8 124.1L430.8 124.2L431.1 125.1L431.1 125L430.9 125.4L431.4 125.6L431.7 125.1L431.3 125L431.7 124.9L431.2 124.2L431.4 123.9L431 123.7L430.9 123.8L430.5 123.2ZM426.3 126.8L426.6 127L426.8 126.6L426.5 126.5ZM433.3 128.6L429.7 128L427.6 128.2L427.6 128.8L430.1 129.4L433.1 129.2ZM432.7 120.3L433.5 120.9L433.9 120.3ZM432.7 122.6L432.9 122.2L432.5 122ZM434.7 123.7L435.2 123.8L435.5 123.5L435 123.4ZM434.3 125.6L434.8 125.7L435.1 125.4L434.6 125.3ZM436.7 127.3L437.1 126.3L436.3 126.7Z"/>
<path id="GRD" fill-rule="evenodd" d="M255.6 177.1L256.4 177.1L256.4 176.3L255.6 176.3Z"/>
<path id="GRL" fill-rule="evenodd" d="M343.4 42.7L342.6 42.5L343 42.1L342 38.4L346.1 35.9L355.1 32.8L342 32.8L336 30.7L325.9 28.8L309.8 28.4L289.6 30.1L269.5 31.1L255.4 33.4L243.3 35.9L233.2 39.6L237.3 42.1L243.3 44.2L253.4 43.8L261.4 44.6L265.5 47.3L268.5 51.4L275.5 54.5L270.5 55.2L271.3 57.2L271.5 57.7L277.6 58.7L272.5 61.8L273.5 64.9L276.5 69.1L279.6 72.2L283.6 75.3L288.6 76.9L292.7 77.4L294.7 74.2L297.7 70.1L299.7 67L305.8 65.3L311.8 63.5L317.8 60.6L325.9 59.5L329.9 57L336 55.6L336 52.5L336 50.4L341 47.9L340.9 47.6L341 47.5L340.8 47.5L340 45.2L342 43.1L342.9 43.3ZM276.5 72.2L276.1 72.8L276.7 73L277 72.4Z"/>
<path id="GTM" fill-rule="evenodd" d="M197 166.1L198.2 168.4L195.6 168.6L194.6 170.3L194.4 171.6L194.6 171.7L196.4 173L198.8 173.2L200.2 171.9L200.6 171.9L200.6 168.8L200.6 164.9L197 164.9ZM201.2 168.8L200.6 168.8L202.6 169.2Z"/>
<path id="GUF" fill-rule="evenodd" d="M271.5 194.3L270.3 197L273.7 197.2L274.5 195.6L276.1 193.3L276.4 192.9L276.1 192.9L273.9 191L271.5 189.6L270.5 191.6Z"/>
<path id="GUY" fill-rule="evenodd" d="M258 186.2L258.8 187.3L257 188.1L256.6 189.6L258 191L259.4 191.4L259.8 192.7L260.4 193.7L259.6 196.6L261.4 199.1L263.5 198.7L266.5 197.9L264.9 195L263.5 193.5L264.9 191.4L265 189.4L264.9 189.4L262.4 186.9L259.8 184.6L259.7 184.6L259.4 184.8Z"/>
<path id="HND" fill-rule="evenodd" d="M202.4 167.4L202.5 166.5L201.2 166.5L201.2 168.8ZM206.4 167.7L206 167.7L205.6 167.8L206.2 167.9ZM203.4 173L203.6 174.4L204.4 174.4L204.3 174.6L205.6 174.2L205.6 173.2L207.6 173L209.3 171.1L212.7 170.7L211.1 169.4L209.1 168.6L206.4 169L203.8 168.8L202 169L201.2 168.8L202.6 169.2L200.6 168.8L200.6 171.9L200.2 171.9L202 173Z"/>
<path id="HRV" fill-rule="evenodd" d="M409.6 108.9L409.8 108.3L410.1 108.5L410.9 110.1L412.5 111.6L414 112.1L413.6 112L412.9 112.3L414 112.4L414.4 112.2L415.6 112.6L417.5 113.8L417.6 113.7L415.8 112.4L413.5 110.8L412.1 109.1L412.1 108.1L414.5 108.1L418.8 108.7L418.6 106.6L415.6 106.6L413.5 105.4L411.7 106L411.1 107.4L407.7 107.4L407.6 107.6L408.3 108.9L409.1 107.8L409.4 108.1L409.2 108.6ZM416 113L415.2 112.9L414.7 113.1L415.5 113.2Z"/>
<path id="HTI" fill-rule="evenodd" d="M233.7 160.3L233.9 160.2L233.6 160.1L233.3 160.2ZM232.4 160.9L233.6 162L233.8 163.2L230.4 163L230.4 163.6L232.2 164.1L235.2 164.3L235.9 164.9L235.9 160.7L233.6 160.5L232.4 160.5ZM233.7 162.6L233.1 162.6L232.7 162.8L233.4 162.8Z"/>
<path id="HUN" fill-rule="evenodd" d="M423.6 101.2L420.6 101.8L418.2 102.7L414.7 102.2L413.5 103.3L412.7 104.5L413.5 105.4L415.6 106.6L418.6 106.6L421.2 106.2L423 105.6L424.6 103.3L426.4 102.2L425 101.4Z"/>
<path id="IDN" fill-rule="evenodd" d="M598.5 194.3L599 193.4L598.1 193.1L597.6 194ZM594.6 195.8L595 195.2L594.4 195L593.9 195.5ZM574.3 196.8L574.9 196.2L573.9 196L573.3 196.6ZM576.1 199.1L576.7 199.9L577.5 200.3ZM591.6 199.6L590.7 199.3L590 200.2L591.1 200.6ZM582.4 203.9L583.8 207.2L586.4 210.1L590.4 212.4L591 213.8L593.4 213.8L593.6 211.1L593.8 208L590.8 205.5L589.4 203.7L588.6 200.8L586.2 199.7L583.8 197.4L581.8 196.2L578.3 193.1L576.7 191L572.3 190.2L572.7 191.8L576.1 195.2L579.1 198.3L579.7 201.4ZM580.3 205.3L579.1 203.9L579.5 205.3ZM593.4 207.4L595.3 207.8L594.3 205.1L592.2 205.1ZM582.8 207.5L582 207.2L581.6 208.1L582.3 208.4ZM597.1 207.2L597.7 208.4L598.5 207.6ZM586.5 213.3L586.8 212.8L586.3 212.7L586 213.1ZM607.5 214.1L607.7 213.7L607.3 213.5L606.9 214ZM607.1 216.1L603.9 215.1L602.9 216.1L598.9 215.3L595.9 214L593.8 214L592.2 215.9L594.9 217.1L598.9 218L603.9 218.8L607.9 219L611 219.8L611 217.8L607.9 216.4L609.3 216.6L610.2 216.2L608.7 216.1L607.8 216.4ZM633.9 194.2L633.5 193.9L633.1 194.8L633.7 195.2ZM611 208.9L611.2 210.3L614 210.1L614.6 208L615 204.9L617 202.8L617.6 200.1L620 199.7L618 197L617.2 194.5L617.9 193.1L617 193.1L613.2 193.1L613.2 194.5L612 196.6L611.2 198.7L609.4 199.1L606.3 198.7L605.5 199.7L602.9 199.9L601.3 198.7L601.1 197.7L599.9 200.1L599.9 202.8L601.9 204.9L602.3 207.8L605.5 209.1L607.9 208.4ZM621 213.2L622.7 213.2L622.9 211.8L622.7 208L624.1 207.4L625.1 210.1L625.7 211.8L627.1 213L627.1 212.9L627.4 213.1L627.6 212.4L628.5 213L629 211.4L628.2 210.9L627.6 212.3L627.7 212L627.4 211.8L627.7 210.5L626.7 208.4L625.5 205.7L627.7 204.9L628.7 203.5L626.1 203.7L624.1 203.9L622.1 203.5L622.5 201.4L624.1 200.8L628.1 200.8L631.1 201L632.1 198.3L628.1 199.7L623.7 199.1L621.6 201.8L620.6 204.5L619.6 207.6L621 209.1ZM613.4 216L612.9 215.9L612.6 216.2L613.1 216.4ZM615.6 219.2L615.6 220.5L617 220.5L620 220.1L620 219L617.6 218.6L617.4 218.7L616.9 218.6L616.6 218.9ZM631.6 219.3L632.3 218.9L631.1 218.7L630.3 219.1ZM611.6 219.6L613.4 220.1L613.4 218.6L611.2 218.6ZM627.7 220.1L628.1 218.8L621.6 219.2L622.1 220.3ZM614 220.3L615.2 220.3L615.4 219L613.8 219ZM631.9 222.2L631.9 221.7L632.3 221.1L632.3 220.5L631.1 220.9L629.1 223.2L630.1 223.2ZM623.7 222.5L620 221.5L622.1 223ZM636.2 192.9L635.7 192.7L635.3 193.3L635.9 193.5ZM638.2 198.7L637.2 197.7L637 199.3L637.4 200.8L638.2 203.5L638.2 201.8L639.6 199.7ZM643.6 204.4L644 203.6L643.3 203.4L642.8 204.1ZM654.6 204.4L655.3 203.6L654.1 203.4L653.3 204.1ZM637.6 205.3L638.2 204.7L637.2 204.5L636.6 205.1ZM642.6 205.3L641.6 205.1L641 205.7L642 205.9ZM642.2 209.3L643.8 208.4L638.2 208L638.2 209.1ZM634.3 209.5L636.4 209.7L636.6 208.4L634.1 208.4ZM644 203.5L644.6 204.9L646.8 206.4L649.2 206.8L646.2 207.6L647.8 208.6L648.2 210.1L650.3 209.9L654.3 211.3L658.3 213.2L659.9 215.9L658.3 217.1L659.3 219L661.9 218.6L664.4 220.7L664.4 207.2L658.3 205.1L655.3 206.4L652.3 208.6L650.7 207L650.3 203.5L647.2 202.6ZM648.6 212.9L648.2 212.6L647.8 213.5L648.4 213.8ZM650.5 214.9L651.3 215.9L651.9 213.4L650.7 213.2ZM645.4 218.4L645.6 216.7L644.2 217.4L644.4 218.4ZM635.5 217.6L634.3 217.4L633.5 217.9L634.8 218.2Z"/>
<path id="IND" fill-rule="evenodd" d="M565.6 144.1L564.8 144.1L565.8 146L561.2 146.4L559.4 146L559.4 145.2L557.8 143.9L557.8 147L551.5 146.4L548.5 145L544.5 143.7L541.7 142.1L543.5 139.2L539.5 137.1L538.4 134.4L539.5 133.8L538.8 131.3L538 130L537 128.2L535.4 129.2L529.4 129.8L529.4 132.3L532.2 134.8L530.4 134.4L530.6 137.3L528.2 139.8L525.1 143.9L521.9 143.9L521.3 146.8L522.3 148.5L523.3 151L519.1 151.4L517.7 152.6L518.3 153.5L521.3 154.3L519.3 155.5L522.9 158.9L525.4 157.8L526.4 156.2L526.8 158.2L527 162.4L528.4 168.6L529.6 171.1L531 174.8L533 178.4L534.4 183.1L536.4 185L537.8 183.5L539.5 182.5L541.1 180.4L541.1 177.9L541.7 173.8L541.9 169.7L543.9 168.6L546.1 167.2L549.5 163.8L551.9 161.4L555.2 159.7L555.6 157.8L557.6 156.8L559.6 156.6L559.2 153.7L558 151L557.8 148.3L558.4 146.8L561.2 147.9L561.2 149.3L566.4 150L564 152L564 153.7L565.2 154.1L566.9 156.4L567.7 156.2L568.3 154.1L569.7 152.2L570.9 149.5L572.1 146.6L573.9 145.4L576.3 143.1L573.7 140.8L569.7 141.2ZM567.3 177.9L567.6 176.9L567.7 174.2L566.9 173.8L566.9 175.7L566.7 177.5ZM566.4 179.4L566.7 180L566.9 179.4ZM567.7 182.5L567.2 182.3L566.9 182.9L567.4 183.1ZM568.6 184.8L568.3 185.4L568.8 185.6L569.1 185ZM569 186.5L568.6 187.3L569.2 187.7L569.6 186.8Z"/>
<path id="IRL" fill-rule="evenodd" d="M367.4 93.5L368.2 91.9L367.8 90L368.3 89.7L367.6 89.6L365.6 89.6L364 88.8L365.6 87.6L365.7 87.1L365.6 87.1L363.6 87.5L363.2 88.8L360.2 89.4L360.2 91L362.2 91.7L361.2 92.7L359.5 93.7L360.2 94.8L363.2 94.8Z"/>
<path id="IRN" fill-rule="evenodd" d="M469.5 123L470.6 124.6L472 127.1L473 128.8L472 130.2L473 132.9L476 134.6L476.6 137.5L478 139.8L478.8 139L481 139.2L482 141.2L484.1 144.1L487.1 146L491.1 146.6L494.7 145.8L495.7 148.5L499.2 149.1L504.4 149.7L504.4 149.5L504.8 147.5L506.8 146.6L507.8 145.4L506.8 143.3L504.6 142.1L503 139.9L504.8 136.9L503.2 136.5L502.4 133.4L503 132.3L502.4 130.7L503.6 128L503.6 125.9L502.2 125.9L499.2 124L495.7 122.4L493.1 122.8L488.9 124.4L488.8 124.2L488.7 125.1L485.1 125.7L481.6 124.6L479 124L478.8 122.2L477 121.3L477.6 120.1L476 119.9L474 121.1L473.2 121.1L472 120.9L471 119.9L470.6 119.5L469.7 120.9Z"/>
<path id="IRQ" fill-rule="evenodd" d="M476 134.6L473 132.9L472 130.2L473 128.8L472 127.1L470.6 124.6L465.7 124.9L463.3 126.7L463.7 128L462.9 130.5L458.5 132.5L459.3 135L461.7 135.6L464.9 137.3L470.4 141.2L474 141.4L475.8 139.4L477 139.8L477.3 139.9L478 139.8L476.6 137.5Z"/>
<path id="ISL" fill-rule="evenodd" d="M330.9 66L335 64.1L340 64.9L344 64.5L348.1 63.9L350.9 64.9L352.9 66.6L351.1 68.2L346.1 69.5L342 70.3L338 69.3L334.6 69.5L336 68L331.9 67.2L336 66.2Z"/>
<path id="ISR" fill-rule="evenodd" d="M451.6 137.5L451.8 136.5L451.2 136.8L450.6 136.7L450.8 135.6L450.7 135L451.2 134.4L451.9 134.6L451.9 135.3L452.4 134L452.4 132.7L451 133.2L450.8 133.2L450.2 134.8L449.2 136.9L450.6 140.6L450.8 140.5Z"/>
<path id="ITA" fill-rule="evenodd" d="M401.5 112.9L401 112.8L400.6 113.1L401.2 113.2ZM398 109.7L400.8 110.8L401.5 112.6L402.5 113.9L404.9 115.1L406.5 116.4L409.1 117.2L410.3 118.2L411.7 118.8L412.7 119.9L412.3 121.5L411.9 123L412.7 123.2L413.5 122L414.7 120.9L413.7 119.3L414.5 117.8L416.4 118.8L417.4 119.3L417.6 118.4L415 117L412.5 115.9L412.5 114.9L408.9 113.9L407.5 111.4L405.1 109.9L405.1 107.8L407.9 107L407.5 105.6L407.9 105.4L405.3 104.9L404.5 104.3L401.3 104.5L400.6 105.8L399 105.6L398.4 106.6L397.2 105.6L394.4 106.6L393.8 108.3L394.4 109.9L395.4 111ZM397.2 120.5L398.2 121.1L399.6 120.5L399.8 117.8L399 116.4L396.8 116.8L397.2 118.2ZM409.1 125.3L410.7 125.7L410.7 124.2L411.7 122.4L407.1 122.6L405.5 123L405.5 123.8Z"/>
<path id="JAM" fill-rule="evenodd" d="M222.6 163.6L225.2 163.4L226.8 164.5L225.2 164.9L222.6 164.1Z"/>
<path id="JOR" fill-rule="evenodd" d="M452.4 134L451.9 135.3L451.8 136.5L451.6 137.5L450.8 140.5L450.6 140.6L450.6 141L453 141.3L455.8 139.6L456.9 138.5L454.8 136.5L459.3 135L458.5 132.5L454.4 134.8Z"/>
<path id="JPN" fill-rule="evenodd" d="M640.7 129.9L640.6 130.7L640.8 131L641 130.2ZM639.5 133.9L639.9 134.1L640.1 133.6L639.7 133.5ZM642.9 138.8L643.3 139L643.5 138.6L643.1 138.5ZM641.1 142.8L640.8 143.2L641.3 143.4L641.6 143ZM637.4 147.7L638.8 146.2L638.2 146.4L637.4 147ZM632.5 150.4L632.8 150.5L633 150.3L632.7 150.2ZM630.4 151L630.1 151.3L630.6 151.4L630.9 151.1ZM673.4 112L672.4 110.1L668.4 109.5L666 107.4L665.4 111.6L662.9 112.2L662.3 113.7L662.3 115.7L664.4 115.3L664.8 113.7L669 114.7ZM658.8 123.2L659.2 123.4L659.4 122.8L659.1 122.6ZM657.3 130L659.9 129.8L661.7 128.6L662.3 129.2L664 127.8L664 126.1L664.4 124L665.4 122.4L666.4 119.9L665.4 117.8L664.4 115.7L662.3 117.4L662.3 119.3L661.3 122L659.3 124.4L656.9 125.5L656.3 124L654.3 126.5L653.3 128L649.2 128.2L646.2 129.4L644 131.3L644.2 131.5L647.2 130.7L650.3 129.8L651.9 130.4L651.8 130.7L652.1 130.9L652.3 130.5L652.7 130.7L653.9 132.3L656.1 130.7ZM651.7 131.7L651.3 130.9L647.2 131.5L647 132.5L648.2 133.8L650.3 132.5ZM642.6 136.7L643.6 137.5L645 136.7L646.2 133.8L645.6 132.1L644 131.5L643 132.1L641.4 132.9L642.6 134.2Z"/>
<path id="KAZ" fill-rule="evenodd" d="M543.1 112.2L542.1 108.5L546.1 107.4L547.5 103.9L553 103.7L553.2 101.4L556.2 100L555.2 98.5L552.1 98.9L548.3 96L541.5 96.4L537.2 91.3L535 89L534.4 89.4L528.8 90.6L528.4 89.8L523.3 89.6L522.9 87.1L517.7 87.7L511.7 89L507.2 89.4L503.6 90L503.2 92.1L501.4 94.2L504.6 95.4L504 96.4L500.2 96.9L498.4 95.8L492.5 96.9L490.1 96L486.1 95L482.6 94.6L478.6 96.9L478 98.3L474.8 98.3L475 99.8L474 101.4L475 102.2L478 104.9L478.9 105.7L479.4 105.6L483 104.3L486.1 104.5L487.5 105.6L487.1 107.8L483.6 108.1L483 109.5L481.6 109.7L483 112.2L486.1 113.2L486.3 114.6L487.1 114.5L490.7 114.7L493.1 116.1L493.1 108.5L498.4 107.2L503.2 109.9L505.2 111.6L511 111.2L513.3 112.6L513.3 113.9L514.7 116.4L517.3 117.4L519.5 115.9L521.3 115.7L523.1 114.1L523.7 113L528.4 113.7L530 112.2L533 112.8L539.5 113L541.9 114.3Z"/>
<path id="KEN" fill-rule="evenodd" d="M462.9 201.8L462.9 196L464.7 193.7L462.5 193.1L459.9 194.7L456.9 194.3L454.4 192.7L452.6 192.3L448.8 193.1L449.8 195.2L450.8 198.3L448.8 201.4L448.8 203.9L456 208L459.3 211.5L460.3 210.1L461.3 207.6L462.5 207L464.1 205.3L462.9 203.7Z"/>
<path id="KGZ" fill-rule="evenodd" d="M533 112.8L530 112.2L528.4 113.7L523.7 113L523.1 114.1L524.7 115.8L526.4 116.6L527.6 117.1L526.2 117.9L524.5 118.4L522.5 118.2L521.9 118.8L520.3 119.7L523.3 119.9L528.8 120.1L529.4 118.6L532.4 117.8L534.4 117.8L537.4 116.8L541.9 114.3L539.5 113Z"/>
<path id="KHM" fill-rule="evenodd" d="M586.8 173.6L586.6 175.9L587.6 177.5L588 178.4L589 179.8L590.6 180.2L592 179.2L593.6 179L594.7 177.5L596.9 176.3L596.9 174.8L596.9 171.3L593.8 172.1L592.2 172.1L587.8 172.1Z"/>
<path id="KOR" fill-rule="evenodd" d="M644.2 124L644 123.9L643.8 124.1L644.1 124.1ZM635.3 125.1L634.7 128.2L635.1 130.5L638.2 129.4L640.6 128.8L641.2 127.1L640.8 125.1L638.8 121.7L637.2 122.4L635.5 123.4L634.2 123.5ZM636.6 130.4L635.8 130.2L635.3 130.5L636.1 130.7ZM635.8 132.7L636 132.3L634.5 132.7L634.7 132.9Z"/>
<path id="KWT" fill-rule="evenodd" d="M475.8 139.4L474 141.4L476.4 142.7L477.7 142.7L477.6 142.5L477 140L477.3 139.9L477 139.8Z"/>
<path id="LAO" fill-rule="evenodd" d="M596.9 168.8L595.3 167.6L592.4 164.1L589.8 161.8L591.4 160.5L590.8 159.1L588.2 158.5L586.2 155.3L585 155.8L585.4 157.8L584 157.8L582 159.6L583 161.4L584.2 161.4L583.8 164.9L586 164.1L588.2 163.8L591.2 165.7L591.2 168L592.8 169.2L593 171.9L592.2 172.1L593.8 172.1L596.9 171.3Z"/>
<path id="LBN" fill-rule="evenodd" d="M452.4 132.7L454 130.9L453.6 130L452.8 129.9L452.6 129.9L452.6 130L451.8 131.3L450.8 133.2L451 133.2Z"/>
<path id="LBR" fill-rule="evenodd" d="M363.6 188.3L363.6 186L361.4 186.5L361.4 184.4L359.5 184.2L359.5 185.2L357.1 187.5L359.1 188.7L362.2 191L365.2 192.7L365.2 189.8Z"/>
<path id="LBY" fill-rule="evenodd" d="M399.4 139.2L400.2 143.7L399.2 147.5L400.4 151L404.5 153.1L408.9 154.9L410.5 154.1L428.7 161.4L428.7 160.3L430.7 160.3L430.7 156.2L430.7 136.3L426.6 134.2L423.6 133.6L420.6 135L420.6 137.5L418.6 139L414.5 137.5L411.5 136.5L410.5 134.6L406.9 133.6L405.5 133.8L403.5 132.9L401.1 138.5Z"/>
<path id="LCA" fill-rule="evenodd" d="M257 173.4L257.8 173.4L257.8 172.6L257 172.6Z"/>
<path id="LKA" fill-rule="evenodd" d="M541.1 183L540.9 184.8L541.3 188.3L542.7 189.6L544.9 188.3L545.1 186.2L543.1 182.5L541.3 181.7L541.1 182.9Z"/>
<path id="LSO" fill-rule="evenodd" d="M437.1 265.3L438.9 264L439.3 262.8L436.7 261.3L434.7 263.2L435.5 264.6Z"/>
<path id="LTU" fill-rule="evenodd" d="M425.8 87.7L426.2 89L427.6 89.9L429.7 89.8L432.3 89.2L433.9 87.3L433.9 86.3L430.7 85L425.6 84.8L422.6 85.6L422.6 85.7L422.6 87.1L422.4 87.2L423.2 87.2Z"/>
<path id="LUX" fill-rule="evenodd" d="M392.4 97.7L392 99.1L393.2 99.1Z"/>
<path id="LVA" fill-rule="evenodd" d="M430.7 85L433.9 86.3L435.9 86.1L437.1 85.2L435.7 82.3L432.7 81.9L430.7 81.5L429.5 81.7L428.7 83.6L426.6 83.6L424 82.3L422.6 83.6L422.6 85.6L425.6 84.8Z"/>
<path id="MAR" fill-rule="evenodd" d="M365.2 140.8L368.8 140.4L370.2 139.6L372.8 137.7L372.8 136.3L375.3 135.4L377.9 134.8L376.9 133.4L376.9 131.3L375.9 129L374.3 128.6L371.2 128.8L369.6 127.3L368.4 127.6L367.8 129L366.6 131.1L365.2 131.9L363.2 132.7L361.6 134.4L360.6 136.5L360.8 138.5L360.2 140.6L358.1 142.1L356.1 143.7L354.1 144.4L353.1 145.8L351.1 147.5L350.1 150.4L348.1 152.6L346.3 156.2L346.1 157.5L347.5 157.4L351.1 156.6L353.7 154.1L356.1 149.5L356.1 147.9L357.9 147.9L361.2 145.4L362.8 144.4L362.8 142.3Z"/>
<path id="MDA" fill-rule="evenodd" d="M439.1 102.7L436.1 101.4L433.9 101.6L435.7 103.5L436.9 105.4L437.1 107.4L440.7 105.6Z"/>
<path id="MDG" fill-rule="evenodd" d="M480.9 236.9L480.8 236.7L480.7 237.2L480.9 237.4ZM477 230L475.4 232.5L473 234.4L469.9 235.4L468.9 237.1L469.7 240.2L469.3 243.3L467.5 247.4L468.3 250.5L469.5 253.7L472 254.7L475 253.7L476 251.6L477.6 246.4L479 241.2L480.2 237.1L480.6 234.2L482 233.9L481.4 231.9L479.6 226.7L478.6 227.7Z"/>
<path id="MEX" fill-rule="evenodd" d="M151.8 140.6L151.6 141.2L151.9 141.4L152.1 140.8ZM142 141.4L141.9 141.8L142 141.9L142.1 141.5ZM153.6 141.2L153.4 141.8L153.7 142.1L153.9 141.4ZM148.2 143L148 143.4L148.3 143.6L148.4 143.2ZM172.4 141.7L169.8 140.4L165.7 135.8L162.3 135.8L162.3 136.9L156.7 136.9L149.2 134L144.4 134.4L145.2 136.3L146.8 138.8L148.2 140.8L150.2 143.1L148.6 144.1L150.2 145.6L152.7 146.8L154.3 148.3L154.7 150.6L157.1 152.4L158.7 154.3L159.9 153.7L159.1 152.4L157.3 150.8L155.9 148.3L154.7 145.8L153.1 144.1L152.2 142.1L150.2 140L149.2 137.9L149 136.1L152.2 136.9L152.7 137.9L154.1 141L155.7 143.1L157.7 144.8L160.1 146.8L162.7 149.5L164.7 152L166.8 154.5L168.2 157.2L167.6 159.5L168.8 161.4L171.6 163.6L174.4 164.5L176.8 165.7L179.8 167.2L182.9 168.4L185.9 169.2L188.3 168.4L189.9 168.2L191.9 169.4L194.4 171.6L194.6 170.3L195.6 168.6L198.2 168.4L197 166.1L197 164.9L200.6 164.9L201.4 164.7L202.4 163.4L203.9 162.9L204 160.7L205.4 158.7L205 157.2L202.4 157L199 157.8L198.2 158.7L197.4 161.8L195.4 163.2L192.9 163.6L189.7 164.1L187.3 163L186.3 161.8L184.5 158.7L183.3 155.1L183.3 152L184.3 148.1L184.3 148L180.9 147L179.8 144.8L176 140L173.8 140ZM165.7 157L165.6 157.2L165.8 157.2L165.9 157ZM205.2 159.1L205.1 159.5L205.3 159.7L205.4 159.2ZM156.9 162.7L156.8 162.8L156.9 162.9L157 162.8Z"/>
<path id="MKD" fill-rule="evenodd" d="M425.4 114.1L423.6 114.1L421.8 114.9L421.6 115.7L422.6 117.1L424.6 116.6L426.4 116L426.6 115.3Z"/>
<path id="MLI" fill-rule="evenodd" d="M358.7 176.9L361.6 175.9L363.6 178.2L364.2 180.6L367.8 180L369.2 180.2L369.6 177.3L371.4 175.9L371.8 174.4L374.3 173.4L376.3 171.1L379.3 170.7L380.7 170.9L382.9 170.1L387.4 169.9L388.8 167L388.8 162.2L386.9 162.4L386.7 160.7L382.7 158.9L382.7 158L370.6 150L367.2 150L369.2 167.6L369.6 169.7L361.6 169.7L358.7 169.9L357.1 169.4L355.7 171.1L357.3 176.1Z"/>
<path id="MLT" fill-rule="evenodd" d="M409.1 127.1L409.7 127.3L409.3 127.6Z"/>
<path id="MMR" fill-rule="evenodd" d="M572.1 146.6L570.9 149.5L569.7 152.2L568.3 154.1L567.7 156.2L566.9 156.4L566.2 158.9L567.7 160.3L569.7 162.4L570.7 165.5L570.3 168.6L572.7 169L575.3 167L576.9 167.6L577.7 171.7L578.9 174.8L578.7 177.9L578.9 181L579.1 180.6L581 177.3L580.1 174.8L578.1 170.3L579.1 168L577.1 163.8L577.7 160.9L580.8 160.1L582 159.6L584 157.8L585 157.8L584.1 157L582 157.2L580.1 156L580.8 154.3L579.3 152L576.9 152.2L576.9 150.4L579.1 148.3L578.9 144.8L576.3 143.1L573.9 145.4Z"/>
<path id="MNE" fill-rule="evenodd" d="M421.2 112.8L419 111.6L417.8 112.2L417.6 113.7L417.5 113.8L417.6 113.9L419.2 114.9L419.2 115L419.4 114.9L420.6 113.7Z"/>
<path id="MNG" fill-rule="evenodd" d="M617.6 99.1L617.7 99.1L615.4 98.5ZM607.9 98.5L603.9 99.6L598.9 99.3L595.9 98.1L591.8 97.3L586.4 96.9L586.2 95.4L581.6 94L577.7 95L578.3 97.1L576.3 98.5L570.3 97.1L565.6 96.6L561 98.3L557.2 99.8L557.6 101.2L562.2 102.9L563.6 105.4L563.6 108.1L568.7 108.7L572.5 109.9L574.5 113.2L581.8 113.4L585.8 114.3L591.8 115.5L596.9 113.9L600.9 113.9L605.5 111.2L605.7 108.5L609.2 108.9L614 107L617 105.2L621.4 104.9L621.9 102.9L618 102.2L614 102.5L613.2 101.8L615.4 98.5L611.6 97.7Z"/>
<path id="MOZ" fill-rule="evenodd" d="M450 225.7L450.2 227.7L449.6 231.7L452.6 232.7L452.4 235L451.4 237.3L449.4 235.6L450 232.9L447.2 230.8L441.1 232.9L441.5 234.2L443.4 235L446.6 236.4L446.8 239.1L446.2 242.2L446.8 243.3L445.8 246L443.4 248.3L444.8 252.6L444.6 255.5L445 257.4L446.6 257.6L446 255.7L446.8 254.3L449.8 253.2L451.8 251.6L451.8 248.5L451.4 245.4L450.6 242.9L451.8 242.2L454.6 239.1L456.9 237.7L459.9 236.4L461.9 233.9L462.5 231.9L462.1 226.7L461.7 223.6L456.9 225.2L452.8 225.9ZM451.8 247.1L451.9 246.7L451.8 246.5L451.7 246.9Z"/>
<path id="MRT" fill-rule="evenodd" d="M352.1 167.4L354.1 169.7L355.7 171.1L357.1 169.4L358.7 169.9L361.6 169.7L369.6 169.7L369.2 167.6L367.2 150L370.6 150L362.8 145.2L362.8 147.9L356.1 147.9L356.1 153.3L354.1 154.1L354.1 157.6L346.1 157.6L346 158.7L347.5 160.3L347.1 161.6L348.1 162.4L347.9 165.5L347.1 168.6L350.1 167.2Z"/>
<path id="MTQ" fill-rule="evenodd" d="M257 171.9L257.8 171.9L257.8 171.1L257 171.1Z"/>
<path id="MUS" fill-rule="evenodd" d="M495.9 243.3L496.7 243.7L496.1 244.3Z"/>
<path id="MWI" fill-rule="evenodd" d="M447.4 227.7L446.2 230L447.2 230.8L450 232.9L449.4 235.6L451.4 237.3L452.4 235L452.6 232.7L449.6 231.7L450.2 227.7L450 225.7L448.8 221.5L446.6 221.3L447.4 224.6Z"/>
<path id="MYS" fill-rule="evenodd" d="M605.5 199.7L606.3 198.7L609.4 199.1L611.2 198.7L612 196.6L613.2 194.5L613.2 193.1L617 193.1L617.9 193.1L618 192.9L620.4 191L617.4 188.5L615.6 187.3L614.2 188.9L613 191.4L612.7 191.5L612.8 191.5L612.4 193.1L610.4 193.3L610 192.3L607.9 195.2L604.5 196.8L603.9 198.7L601.1 197.7L601.3 198.7L602.9 199.9ZM582.4 190.4L583.2 193.5L584.4 195.8L586.8 197.7L588.8 199.1L590.2 198.9L588.6 195.6L588.8 192.9L587.8 190.4L586 188.9L584 190L582 188.3Z"/>
<path id="NAM" fill-rule="evenodd" d="M418.6 261.9L420.6 260.7L420.6 253.2L420.6 247.4L422.6 247.4L422.6 239.8L427.2 239.1L428.7 239.1L431.3 238.7L427.4 238.3L422.6 238.9L417.4 237.9L408.5 237.9L407.5 237.9L404.1 237.7L405.5 241.2L407.5 245.4L409.5 248.5L409.5 251.6L410.5 254.7L411.1 257.8L413.5 261.1L415.6 261.5Z"/>
<path id="NCL" fill-rule="evenodd" d="M717.3 245.5L717.6 245L717 244.8L716.6 245.3ZM716.7 248.3L715.7 247L710.7 243.5L713.7 246.8ZM718.8 246.3L718.5 246.1L718.3 246.5L718.6 246.6Z"/>
<path id="NER" fill-rule="evenodd" d="M387.4 169.9L382.9 170.1L380.7 170.9L382.1 173.6L384.7 175.9L385.1 176.3L387.6 177.5L388.6 173.8L391.4 173L394 174.8L396 174.2L398.4 175.3L401.5 174.2L405.5 174.6L407.7 173.4L407.5 171.7L411.5 167L411.7 164.5L411.5 160.3L411.5 158.2L410.5 154.1L408.9 154.9L404.5 153.1L395.4 158.7L392 161.4L388.8 162.2L388.8 167Z"/>
<path id="NGA" fill-rule="evenodd" d="M398.2 189.8L400 187.7L401.5 187.3L403.5 188.1L404.5 186.2L406.1 183.8L406.9 181.9L408.1 179L409.7 177.9L408.9 175.9L407.7 173.4L405.5 174.6L401.5 174.2L398.4 175.3L396 174.2L394 174.8L391.4 173L388.6 173.8L387.6 177.5L387.8 180.4L385.9 183.1L385.7 188.5L387.1 188.5L389.4 188.7L391.2 191L392.4 192.9L394.4 192.7L397 192.5L397.6 192.5L397.6 191.8Z"/>
<path id="NIC" fill-rule="evenodd" d="M207.6 173L205.6 173.2L205.6 174.2L204.3 174.6L204 175L206 177.3L207.5 178.8L207.6 178.8L209.7 178.8L211.7 179.2L211.8 179.2L211.7 178.6L211.9 175.9L212.3 172.8L212.7 170.7L209.3 171.1Z"/>
<path id="NLD" fill-rule="evenodd" d="M394.4 93.3L394.8 91.5L394.4 91L391.4 91.3L389.8 91.9L388.4 94L387.1 95.2L390.4 95.2L391.8 95.6L392.4 96.4L392.4 94.4Z"/>
<path id="NOR" fill-rule="evenodd" d="M410.5 42.1L413.9 42.9L416.6 41.1L422.6 39.6L418.6 38.4L422.4 37L428.7 37.3L434.7 35.7L428.7 35.1L420.6 35.1L416.6 35.7L418.1 36.1L416.6 35.9L408.5 36.3L402.5 36.5L401.5 36.9L402.5 39L407.5 40.4ZM362.8 54.6L363.8 54.8L364.4 54.4L363.4 54.3ZM411.5 58.7L412.5 59.1L413.1 59L412.5 59.5L411.5 58.9L409.5 59.7L410.5 60.4L412.2 59.7L411.5 60.1L409.5 61.2L407.5 62.8L405.5 64.9L402.5 67.4L400.4 69.1L397.9 69.8L397.3 69.6L396.8 70L397.1 70L394.4 71.1L391.4 72.6L390.4 74.2L390.4 77.4L391.8 80.1L394.4 81.5L396.8 81.1L400 79.4L401.7 77.6L402.9 79.4L404.1 77.8L405.5 76.7L405.1 74.7L404.9 73.2L404.9 70.5L408.1 68.6L409.1 66.6L409.7 64.5L412.9 62.2L413.5 60.8L417 59.7L420.6 59.7L421.6 58.6L423.6 58.1L426.6 59.3L430.7 59.5L432.7 57L436.3 56.4L438.7 58.3L438.5 58.6L442.2 57.1L441.7 57L442.8 56L440.7 55.6L436.7 54.5L432.6 54.4L432.2 54.3L432.1 54.4L431.7 54.3L427 55.1L426.5 55.1L426.1 55.3L425.6 55.4L421.6 56.2L418.8 56.8L418.6 56.6L417.6 57L415 58.1L414.5 57.9ZM408.1 60.8L409.5 60.1L406.5 60.6ZM390.3 73.1L390.1 73.5L390.5 73.7L390.7 73.3ZM422.6 41.1L428.7 40.7L426.6 39.6L422.6 40Z"/>
<path id="NPL" fill-rule="evenodd" d="M544.5 143.7L548.5 145L551.5 146.4L557.8 147L557.8 143.9L553.6 143.7L549.5 141.9L546.5 139.8L543.5 139.2L541.7 142.1Z"/>
<path id="NZL" fill-rule="evenodd" d="M728.8 274.4L731.2 277.1L732.5 279.6L732 281.6L730.4 283.3L730.8 283.7L733.3 285.2L732.3 287.2L733.3 288.1L735.3 286.8L736.9 284.8L736.9 283.5L738.9 282.5L739.9 280L736.9 280.4L734.7 279.8L733.9 277.9L731.8 276.9L729.8 274.4L728.2 273.1ZM725.4 288.9L723.8 291L719.8 293.1L717.7 294.7L715.7 297.2L719.4 298.4L721.8 298.4L724.4 296.8L725.4 293.7L728.4 292.6L728.8 291L731 288.9L731.4 287.2L728.2 285.8L726.8 286.8ZM719.2 299.1L717.9 298.9L718.3 299.7Z"/>
<path id="OMN" fill-rule="evenodd" d="M493.5 147.5L493.3 147.7L493.3 148.3L493.8 148.4ZM492.5 152L491.5 154.7L492.5 156.2L491.1 160.3L485.1 162.4L487.3 167.3L487.3 167.4L491.1 166.5L494.1 164.5L496.7 162.4L498.2 159.3L500.8 155.1L498.2 152.9L494.3 151L494.1 150L493.9 150.2L493.1 150.2Z"/>
<path id="PAK" fill-rule="evenodd" d="M535 127.8L532.4 125.5L531.2 124.6L530.6 125.1L527.4 125.5L524.5 126.5L523.7 129.2L523.3 131.1L521.3 131.5L521.1 133.2L519.9 135.6L517.3 136.1L514.1 137.7L513.9 140L506.2 140.8L503 139.9L504.6 142.1L506.8 143.3L507.8 145.4L506.8 146.6L504.8 147.5L504.4 149.5L504.4 149.7L506.2 149.5L510.2 149.5L514.3 149.1L514.7 150.2L516.1 152L517.7 152.6L519.1 151.4L523.3 151L522.3 148.5L521.3 146.8L521.9 143.9L525.1 143.9L528.2 139.8L530.6 137.3L530.4 134.4L532.2 134.8L529.4 132.3L529.4 129.8L535.4 129.2L537 128.2Z"/>
<path id="PAN" fill-rule="evenodd" d="M213.3 184.6L213.9 184.6L215.7 185L217.1 186.7L218.1 186.7L219.1 186.2L218.3 184.8L219.5 183.8L220.5 183.1L222.2 184L223 184.4L222.6 185.4L223.4 186.9L224.6 185.6L224.2 185.2L224.6 184L223.2 182.5L221.5 182.1L219.9 181.9L218.3 182.9L216.3 183.5L214.7 182.7L213.9 181.9L213.3 182.9ZM221.3 184.4L221.1 184.4L221 184.5L221.2 184.6ZM215.7 186.2L215.5 186.1L215.3 186.4L215.6 186.6Z"/>
<path id="PER" fill-rule="evenodd" d="M240.3 238.1L240.1 237.7L241.3 236L239.9 234.2L240.5 232.9L241.5 231.9L241.3 230.2L241.9 227.7L240.1 224.6L238.1 224.6L238.1 221.5L234.8 222.5L234.6 221.5L233.2 220.5L231.6 216.9L232.8 214.2L233.6 212.2L239.3 210.5L237.9 209.7L239.3 207.4L235.2 206.8L233.2 206.6L230.2 202.8L228.6 202L228.2 204.9L226.2 207L223.2 208L222.4 209.7L221.1 212.2L220.1 211.1L218.5 210.1L218.5 208.9L216.5 211.5L216.9 214.2L219.1 215.7L220.1 217.6L221.8 220.5L223.2 223.4L224.8 226.7L226.6 229.4L226.6 230.8L228.8 233.5L231.2 235.4L234.2 237.1L236.7 238.3L238.6 239.9L238.7 239.8Z"/>
<path id="PHL" fill-rule="evenodd" d="M625.7 159.6L625.9 159.7L626 159.4L625.8 159.3ZM624.8 161.9L625.2 162L625.4 161.7L625 161.6ZM622.3 171.1L623.9 171.5L623.3 173.2L625.5 173L627.1 173.6L628.7 174.6L630.3 175.7L630.1 173.2L628.7 172.8L627.1 172.3L625.5 171.1L625.3 168.6L626.7 166.5L626.5 163.4L623.3 163.4L622.9 165.5L622.9 167.4L621.6 168.2ZM624.5 174L622.9 174L623.3 175.3L624.1 176.5L625.1 176.1ZM625.7 176.2L626.2 176.4L626.5 175.9L626 175.8ZM621.5 177.3L622.2 177.5L622.6 176.9L622 176.7ZM620.4 179.8L618 182.1L616.4 183.8L616.4 184.4L619 182.5L621 180L621.4 178.4ZM624.4 189.5L624.6 189.3L624.2 189.2L624 189.4ZM622.1 191.4L622.4 191.1L622 191.1L621.7 191.3ZM630.3 173.7L630.6 173.9L630.8 173.4L630.5 173.3ZM628.9 176.3L629.4 176.7L629.7 175.8L629.2 175.5ZM633.5 178.6L632.7 175.9L630.7 175.9L630.9 178.2L631.7 180.6L632.5 180.6ZM627.3 182.3L628.7 182.7L629 181.4L629.3 181.9L629.7 181.1L629.9 181.9L631.1 181.9L631.1 181.1L629.9 180.9L630.3 180L629.7 178.6L629.5 179.4L629.3 180L628.1 177.9L626.1 177.3L625.9 177.3L625.9 180L626.9 180ZM633.1 181.2L633.4 181.5L633.5 180.9L633.3 180.6ZM634.2 181.8L634.3 181.3L634.1 181.2L634 181.6ZM632.9 190.2L633.1 187.7L634.5 188.5L635.3 186.7L634.7 183.1L632.9 181.5L631.1 184.2L629.1 184L626.5 185.2L626.1 187.3L626.3 187.5L628.7 186.2L630.1 186.9L630.5 188.9Z"/>
<path id="PNG" fill-rule="evenodd" d="M681.6 204.5L681.3 204.8L681.8 205L682.1 204.6ZM676.3 205.8L675.6 206.3L676.7 206.5L677.3 206ZM688.5 211.5L687.5 209.7L684.1 207.2L684.5 207.8L687.7 210.1ZM687.1 210.5L685.5 212L682.5 212.6L679.1 213.4L681.5 214.9L684.5 214L686.9 212.2ZM692 213.2L691.8 214L693.2 215.5L694.4 215.9ZM671.8 217.8L674.4 220.1L677.5 222.5L680.5 223.2L683.9 223.8L682.5 222.5L679.5 220.5L677.5 218L676.4 215.9L678.1 215.7L677.5 214.2L674 212.2L671.4 209.7L668.4 208.9L664.4 207.2L664.4 220.7L668.4 220.7L669.4 219ZM688.1 220.6L687.7 221L688.3 221.2L688.5 220.7ZM683.2 220.9L682.7 221.5L683.5 221.7L683.9 221.1ZM684.5 222.7L685 222.9L685.3 222.4L684.8 222.2ZM688.9 225.5L689.7 225.7L690.1 225.3L689.4 225.2Z"/>
<path id="POL" fill-rule="evenodd" d="M408.9 86.9L409 86.7L408.5 86.7L408.5 86.9ZM410.1 96.2L411.5 96.4L413.5 97.5L416.2 97.5L418.2 99.1L418.6 99.1L420.6 99.8L422.6 99.3L425.8 100L426 98.9L428.9 96.4L427.8 95L427 93.3L428.4 92.5L427.6 89.9L426.2 89L419.8 89L417.8 89L416.6 88.1L412.5 89.2L408.9 90L408.9 91.9L409.7 94Z"/>
<path id="PRI" fill-rule="evenodd" d="M244.9 163.4L248.1 163.6L247.7 164.5L244.9 164.5Z"/>
<path id="PRK" fill-rule="evenodd" d="M638.2 114.7L638.6 115.9L636 115.1L633.1 117.4L630.9 118.8L632.7 119.9L632.1 121.7L632.5 123.4L634.1 123.4L634.2 123.5L635.5 123.4L637.2 122.4L638.8 121.7L637.2 119.9L638.2 118.8L641.2 117.2L641.8 115.7L643.5 113.9L643.4 113.7L641.8 112.6Z"/>
<path id="PRT" fill-rule="evenodd" d="M365.2 119.7L366.4 118.8L366.4 117L367.8 115.7L367 114.9L363.8 114.5L362.4 114.9L362.8 116.4L362.4 118.8L361.2 121.5L362.6 122.2L362.4 125.1L365.4 124.6L365.2 124L365.6 122.6L366.2 120.9ZM325.9 121.5L325.3 121.3L325.5 121.7ZM323.9 122.2L322.9 121.7L323.3 122.2ZM328.3 123.2L328.9 123.6L329.5 123.4ZM345.6 133.8L346.1 134.2L346.7 134Z"/>
<path id="PRY" fill-rule="evenodd" d="M256 242.5L254.8 244.3L254.2 247.8L257.4 250.7L259.4 251.6L261.8 253.2L264.3 254.5L262.2 258.2L266.5 258.8L267.9 258.6L270.1 256.8L270.3 254.9L270.9 251.6L268.1 251.2L267.5 248.1L263.7 247.6L263.1 243.7L261.2 241.8Z"/>
<path id="PSE" fill-rule="evenodd" d="M450.8 135.6L450.6 136.7L451.2 136.8L451.8 136.5L451.9 134.6L451.2 134.4L450.7 135Z"/>
<path id="QAT" fill-rule="evenodd" d="M484.3 150.5L484.3 148.3L483 147.7L482.6 150.4L483.6 151ZM482.6 150.4L482 149.5L482 150Z"/>
<path id="REU" fill-rule="evenodd" d="M491.7 245.1L492.7 245.6L492.1 246.2Z"/>
<path id="ROU" fill-rule="evenodd" d="M436.9 105.4L435.7 103.5L433.9 101.6L430.7 102.7L426.6 102.2L426.4 102.2L424.6 103.3L423 105.6L421.2 106.2L423.6 108.1L423.4 108.9L426 110.1L426.6 111L431.7 111.2L434.7 110.3L437.9 111L438.1 109.5L439.9 108.1L440 108L437.1 107.4Z"/>
<path id="RUS" fill-rule="evenodd" d="M501.3 34.1L501.2 34.2L507.2 34.4L509.2 33.4L503.2 32.8L502 33.6L501 33.5L500.2 33.9ZM495.1 35.5L499.2 34.4L491.1 33.8L487.1 35.3ZM481 35.7L483 34.6L477 34.2L475 35.3ZM517.3 42.1L511.2 42.1L501.2 43.8L495.1 45.6L491.1 47.3L489.1 49.4L493.1 49.6L497.1 47.3L503.2 45.2L511.2 43.6L518.3 42.5ZM482 49.8L480.8 49.6L480 50.1L481.3 50.4ZM492.1 50L489.1 49.8L487.1 51.4L484.1 53.5L487.1 55.2L491.1 55.4L496.1 55.4L493.1 52.5ZM19.7 53.9L18.5 53.6L17.7 54.3L19 54.6ZM501.2 56L498.6 56.2L499.2 57L502.2 56.6ZM438.5 58.6L438.7 58.3L436.9 56.9ZM480.6 59.1L480 58.1L478 58.1L478 59.1ZM32.8 68.4L35.8 66L38.4 64.7L33.8 62.8L27.7 61.8L23.7 60.1L17.7 58.9L17.7 65.5L19.7 64.3L21.7 66L25.7 66L26.7 67.4L30.8 68.2ZM422.4 87.2L420.6 87.9L419.8 89L426.2 89L425.8 87.7L423.2 87.2ZM407.6 107.6L407.7 107.4L407.6 107.4L407.5 107.4ZM428.5 123.5L428.7 123.6L428.7 123.2ZM424 125.5L424.8 125.8L423.6 124.7ZM575.7 35.9L579.7 34.8L575.7 33.8L571.7 34.8ZM571.7 38L573.7 39L579.7 40L587.8 39.6L589.8 38L581.8 36.9ZM596.9 39.5L595.7 39.3L594.9 39.7L596.2 39.9ZM574.2 42.3L575.3 41.7L573.4 41.5L572.1 42.1ZM546.7 45.3L545.3 45.1L544.3 45.5L545.9 45.7ZM664.4 44.2L656.3 45.2L658.3 46.9L666.4 46.5L676.4 46.7L680.5 45.8L672.4 45.2ZM607.2 47.5L607.9 47.2L606.7 47L605.9 47.4ZM654.6 48.6L655.3 48.2L654.1 48L653.3 48.4ZM664.4 48.7L662.3 49.4L668.4 49.8ZM537.8 51L536.1 50.8L535 51.4L536.9 51.6ZM660.3 103.7L662.7 101.2L663.4 99.1L663.4 96L665 93.3L665 91.5L662.3 89.8L659.3 90.2L657.3 89.8L653.3 88.4L657.3 86.1L660.3 83.2L664.4 80.5L668.4 78.8L674.4 78.8L680.5 78.2L684.5 79L688.5 79.2L692.6 78.4L696.6 74L702.6 75.9L703.6 73.8L708.7 73.2L710.7 72.2L709.7 74.2L706.7 76.3L702.6 78.4L698.6 81.5L695.6 83.6L693.8 86.7L694.6 89.8L693.8 94L696 96.2L699.2 94.2L699.6 92.1L702.6 91.5L702.6 89.8L706.3 88.8L706.7 87.7L708.7 85.2L706.7 82.1L708.7 81.5L709.1 80L709.9 80.3L710.3 79.6L709.6 79.4L709.1 80L709.3 79.4L710.7 77.6L716.7 76.7L723.4 77.4L727.8 75.3L731.8 73.6L736.9 72.2L741.3 72.6L740.9 71.1L737.9 68L739.9 67.8L742.9 66.6L742.9 58.7L734.9 57L724.8 56.6L722.8 58.5L716.7 57L710.7 57.2L706 57.6L706.3 57.3L705.5 57.2L705.1 57.5L705.5 57.6L704.7 57.7L701.6 56.6L694.6 54.5L687.5 54.8L682.5 53.5L674.4 51.8L668.4 51.4L663.4 50.8L660.3 51.6L654.3 53.5L648.2 53.5L644.2 55L640.2 54.1L641.2 50.8L636.2 49.4L628.1 50L618 49.4L607.9 48.9L593.8 50.4L601.9 48.7L603.9 47.7L609 45.2L605.9 43.1L595.9 42.1L590.4 40.7L581.8 43.1L571.7 44L561.6 45L555.6 46.3L553.6 48.7L542.5 49.4L548.5 53.5L547.5 55.6L545.5 52.9L542.5 52.5L537.4 52.5L535.4 52.1L531.4 50.8L530.4 52.5L528.4 56.6L530.4 59.7L529.4 62.8L525.4 64.3L525.4 63.9L528.4 60.8L525.4 58.7L527 54.5L526.4 50.8L521.3 50.4L518.3 51.4L515.3 54.5L515.3 57.7L518.3 60.1L515.3 59.1L513.3 58.7L509.2 58.1L502.2 57.2L501.2 59.1L496.1 59.5L490.1 60.4L487.1 59.7L481 60.8L477 61.6L474 62.8L473 60.8L468.5 59.7L469.5 61.8L468.9 64.5L464.9 64.1L460.9 66L461.9 68L456.9 68.4L453.8 69.1L450.2 68L449.8 66L445.8 62.6L446.8 63.3L450.8 63.7L457.9 64.7L462.9 63.7L462.9 62.4L457.9 60.1L452.8 58.3L446.8 57.7L442.2 57.1L438.5 58.6L437.7 60.4L440.7 61.4L438.7 63L440.7 65.5L440.1 67.4L441.7 68.6L440.7 69.7L443.8 71.3L440.7 73.6L436.3 76.3L438.1 75.9L441.1 77.6L438.7 77.4L436.8 78.3L436.7 78.6L435.7 79.8L435.7 82.3L437.1 85.2L442.6 86.5L442.3 88.1L445.8 90.8L443.8 91.7L444.4 93.7L448.4 93.1L451.8 96L453.8 97.5L456.9 98.3L461.1 98.9L460.3 101.2L460.5 102.7L457.6 104.1L459.3 103.9L457.9 105.2L457.3 106L455.8 107.4L454.4 108.1L455.8 108.9L457.9 109.9L460.3 111.6L460.7 111.9L460.9 111.8L464.9 112.2L468.5 113.4L471 113.2L473.8 114.9L476 116.1L478.2 115.1L478.5 115.1L476.6 113L476 111.6L475 110.1L474.4 109.3L475.6 107.2L478 106L478.9 105.7L478 104.9L475 102.2L474 101.4L475 99.8L474.8 98.3L478 98.3L478.6 96.9L482.6 94.6L486.1 95L490.1 96L492.5 96.9L498.4 95.8L500.2 96.9L504 96.4L504.6 95.4L501.4 94.2L503.2 92.1L503.6 90L507.2 89.4L511.7 89L517.7 87.7L522.9 87.1L523.3 89.6L528.4 89.8L528.8 90.6L534.4 89.4L535 89L537.2 91.3L541.5 96.4L548.3 96L552.1 98.9L555.2 98.5L556.2 100L557.2 99.8L561 98.3L565.6 96.6L570.3 97.1L576.3 98.5L578.3 97.1L577.7 95L581.6 94L586.2 95.4L586.4 96.9L591.8 97.3L595.9 98.1L598.9 99.3L603.9 99.6L607.9 98.5L611.6 97.7L615.4 98.5L617.7 99.1L620.4 97.7L622.1 94.6L623.7 92.7L622.3 92.3L624.5 91.3L629.1 90.8L633.7 91.9L637.2 97.7L637.2 98.5L642.2 100.4L644.2 102.9L647.4 102.7L651.7 101.6L650.3 104.3L648.2 108.3L645.2 108.5L644.2 110.5L644.8 111.8L643.4 113.7L643.6 113.9L643.8 113.7L646.2 112.2L649.2 113L653.3 110.5L655.3 108.5L658.3 106ZM658.6 89.1L659.3 88.3L658.1 88L657.3 88.8ZM596.9 176.3L594.7 177.5L594.5 177.8ZM592.3 179.2L592 179.2L590.6 180.2ZM686.8 44L687.5 43.7L686.3 43.6L685.5 43.8ZM677.9 44.7L676.2 44.5L675 44.9L676.9 45ZM742.9 54.8L742.9 53.5L739.9 54.5L740.9 55ZM721.1 57.1L721.8 56.8L720.6 56.7L719.8 57ZM715 88L715.7 87.6L714.5 87.4L713.7 87.9ZM718.3 88L717.6 87.9L717.1 88.2L717.9 88.4ZM695.4 96.6L694.2 96.9L693 98.1L694.4 97.9ZM666.4 105.4L668 106.4L669.4 104.7L668.4 103.3L671.4 100.2L670 98.1L669 94L668.4 90.8L666.4 89.2L665.8 91.9L666 95L666.8 98.1L666.4 102.2ZM691.8 99.3L690.5 99.6L689.3 100.8L690.7 100.6ZM687.7 103.1L686.5 103.3L685.3 104.5L686.7 104.3ZM682.7 106.2L683.7 104.9L682.5 105.2L681.3 106.4ZM679.3 107L678.1 107.2L676.8 108.5L678.3 108.3ZM675.6 108.7L674.4 108.9L673.2 110.1L674.6 109.9Z"/>
<path id="RWA" fill-rule="evenodd" d="M440.7 206.8L442.3 206.6L441.7 203.9L439.9 204.7L438.7 207.4L440.5 207.6Z"/>
<path id="SAU" fill-rule="evenodd" d="M470.4 141.2L464.9 137.3L461.7 135.6L459.3 135L454.8 136.5L456.9 138.5L455.8 139.6L453 141.3L450.6 141L450.8 143.5L452.8 145.8L454.8 148.9L457.5 152L458.9 156.2L459.9 158.9L462.9 161.8L464.9 164.9L466.5 167.8L467.3 165.7L469.9 165.7L475 166.5L477 164.1L479.2 163.2L485.1 162.4L491.1 160.3L492.5 156.2L491.5 154.7L486.3 154.3L484.3 151.6L484.3 151.4L483.9 151.4L484.3 150.8L484.3 150.5L483.6 151L482.6 150.4L482 150L482 149.5L481.4 148.7L481 146.4L478.6 144.6L477.7 142.7L476.4 142.7L474 141.4ZM464.8 167.2L465 166.8L464.7 166.7L464.4 167.1Z"/>
<path id="SDN" fill-rule="evenodd" d="M428.7 160.3L428.7 161.4L428.7 169.2L426.4 169.7L425 174.8L426.4 179L428 183.1L429.1 183.8L430.7 180.4L433.7 182.1L436.7 182.5L438.7 181.9L439.7 181.1L442.3 181.7L445.6 177.5L446.8 176.5L447.2 179.4L449 182.1L449.4 179.8L450.8 177.3L453.2 175.5L453.8 172.1L454.8 166.5L457.9 164.5L455.8 163L455.2 161.4L455.2 158.2L454.6 156.2L430.7 156.2L430.7 160.3Z"/>
<path id="SEN" fill-rule="evenodd" d="M352.7 175.7L357.3 176.1L355.7 171.1L354.1 169.7L352.1 167.4L350.1 167.2L347.1 168.6L346.5 169.7L345 171.3L346.9 173.2L346.7 173.4L350.1 173.2L352.5 173.8L350.1 174.4L346.5 174.5L346.7 176.1L350.1 175.5Z"/>
<path id="SLB" fill-rule="evenodd" d="M697.6 217.4L695.6 215.9L696.6 216.9ZM702.2 219.2L699.6 217.6L701.6 219ZM705.5 221.5L704 219.2L704.7 221.1ZM701.8 221.1L702.6 222.1L704.2 222.1ZM705.3 223L706.3 224L707.3 224.2Z"/>
<path id="SLE" fill-rule="evenodd" d="M359.5 184.2L358.9 182.5L357.7 181.1L355.1 181.3L353.5 183.1L353.7 184.2L355.1 186.2L357.1 187.5L359.5 185.2Z"/>
<path id="SLV" fill-rule="evenodd" d="M202 173L200.2 171.9L198.8 173.2L199 173.2L201 174L203 174.4L203.6 174.4L203.4 173Z"/>
<path id="SOM" fill-rule="evenodd" d="M467.9 182.3L468.9 183.3L475 185.2L477 185.2L471 191.4L466.9 192.1L464.7 193.7L462.9 196L462.9 201.8L462.9 203.7L464.1 205.3L465.9 202.8L468.9 199.7L471.6 197.7L474 196L477 192.5L479 189.4L481 185.2L482.6 182.1L483.9 180.2L483.2 180L483.6 177.3L482.6 177.1L480 178.2L477 178.6L474 179.4L471 180L468.9 180L467.5 178.2L467.5 178.1L466.7 179.2Z"/>
<path id="SRB" fill-rule="evenodd" d="M423.6 108.1L421.2 106.2L418.6 106.6L418.8 108.7L419.6 110.1L419 111.6L421.2 112.8L420.6 113.7L421.8 114.9L423.6 114.1L425.4 114.1L426.6 112.2L425.4 111.6L426 110.1L423.4 108.9Z"/>
<path id="SSD" fill-rule="evenodd" d="M433.7 189.4L435.5 191.2L439.7 192.7L442.3 194.5L442.8 194.1L447.8 193.9L448.8 193.1L452.6 192.3L450.4 187.9L446.8 185.2L449 182.1L447.2 179.4L446.8 176.5L445.6 177.5L442.3 181.7L439.7 181.1L438.7 181.9L436.7 182.5L433.7 182.1L430.7 180.4L429.1 183.8L431.1 186.2Z"/>
<path id="STP" fill-rule="evenodd" d="M393.4 201L394 201.2L393.6 201.8Z"/>
<path id="SUR" fill-rule="evenodd" d="M263.5 193.5L264.9 195L266.5 197.9L267.7 197.7L270.3 197L271.5 194.3L270.5 191.6L271.5 189.6L268.5 189.4L265 189.4L264.9 191.4Z"/>
<path id="SVK" fill-rule="evenodd" d="M422.6 99.3L420.6 99.8L418.6 99.1L418.2 99.1L416.6 100.2L414.3 101L414.7 102.2L418.2 102.7L420.6 101.8L423.6 101.2L425 101.4L425.8 100Z"/>
<path id="SVN" fill-rule="evenodd" d="M411.1 107.4L411.7 106L413.5 105.4L412.7 104.5L410.5 105.2L407.9 105.4L407.5 105.6L407.9 107L407.6 107.4L407.7 107.4Z"/>
<path id="SWE" fill-rule="evenodd" d="M427.6 61L421.6 58.6L420.6 59.7L417 59.7L413.5 60.8L412.9 62.2L409.7 64.5L409.1 66.6L408.1 68.6L404.9 70.5L404.9 73.2L405.1 74.7L405.5 76.7L404.1 77.8L402.9 79.4L404.3 82.3L405.9 85.2L406.3 86.7L408.5 86.9L408.5 86.7L409 86.7L409.5 85.4L412.5 85L413.5 82.5L414.1 80.3L417.6 79.4L418.2 77.8L414.7 75.9L415.2 73.8L416.6 72.2L419.6 70.5L422.2 69.7L423.2 67.8L425.2 65.7L429.1 65.3L428.7 64.5L427.8 62.4ZM418.8 81.9L418.2 81.7L417 83L418 83.2ZM413.7 84L413.3 85.2L414.7 83Z"/>
<path id="SWZ" fill-rule="evenodd" d="M442.3 257.4L443.4 258.4L445 257.4L444.6 255.5L442.8 255.3Z"/>
<path id="SYR" fill-rule="evenodd" d="M462.9 130.5L463.7 128L463.3 126.7L465.7 124.9L460.9 125.5L456.9 125.5L454.2 125.7L453.6 126.7L452.6 127.3L452.4 128L452.6 129.9L452.8 129.9L453.6 130L454 130.9L452.4 132.7L452.4 134L454.4 134.8L458.5 132.5Z"/>
<path id="TCD" fill-rule="evenodd" d="M411.5 160.3L411.7 164.5L411.5 167L407.5 171.7L407.7 173.4L408.9 174.8L410.5 176.9L410.7 179.4L411.5 181.1L408.5 181.1L411.5 186.2L414.5 185.8L417.8 185.2L418.6 183.1L421.4 182.9L424 179.8L426.4 179L425 174.8L426.4 169.7L428.7 169.2L428.7 161.4L410.5 154.1L411.5 158.2Z"/>
<path id="TGO" fill-rule="evenodd" d="M383.3 182.1L381.9 180.2L382.1 179L380.3 178.8L381.3 181.1L381.3 184.2L381.7 187.3L382.7 189.1L383.5 188.9L383.5 187.3Z"/>
<path id="THA" fill-rule="evenodd" d="M577.7 160.9L577.1 163.8L579.1 168L578.1 170.3L580.1 174.8L581 177.3L579.1 180.6L578.9 181.1L578.3 183.1L578.7 185.2L580.8 186.7L582 188.3L584 190L586 188.9L584.4 187.5L582.4 186.7L581.8 184.2L580.1 182.1L580.3 179L581.8 176.5L581.8 174.2L583.6 173.8L583.8 175.5L586.2 176.3L587.6 177.5L586.6 175.9L586.8 173.6L587.8 172.1L592.2 172.1L593 171.9L592.8 169.2L591.2 168L591.2 165.7L588.2 163.8L586 164.1L583.8 164.9L584.2 161.4L583 161.4L582 159.6L580.8 160.1Z"/>
<path id="TJK" fill-rule="evenodd" d="M531.2 122.2L528.8 120.1L523.3 119.9L520.3 119.7L521.9 118.8L522.5 118.2L522.3 116.8L519.9 117.2L518.5 118.4L518.5 119.7L516.3 119.9L517.9 122.6L516.9 124.6L519.9 124.9L521.7 123.8L522.3 122.6L523.9 122.4L524.3 125.1L526.4 125.1L528.4 124.2L531.2 124.6Z"/>
<path id="TKM" fill-rule="evenodd" d="M514.3 123L510.2 121.1L506.2 118.8L505 116.6L501.4 115.9L501.2 114.3L498.4 113.2L495.3 114.7L495.1 116.1L493.1 116.1L490.7 114.7L487.1 114.5L486.3 114.6L486.5 115.3L489.1 114.7L490.5 116.4L487.1 117.8L486.7 118.8L488.1 120.3L488.9 123L488.8 124.2L488.9 124.4L493.1 122.8L495.7 122.4L499.2 124L502.2 125.9L503.6 125.9L503.6 128L505.8 128.8L507.2 127.6L510.2 126.5L512.3 124.6L514.3 124.2Z"/>
<path id="TLS" fill-rule="evenodd" d="M632.3 221.1L631.9 221.7L631.9 222.2L632.1 222.1L635.1 220.5L636.8 219.2L632.3 220.5Z"/>
<path id="TTO" fill-rule="evenodd" d="M255.6 179.6L257.6 179.4L257.4 180.9L255.6 180.9Z"/>
<path id="TUN" fill-rule="evenodd" d="M395.4 131.5L398.4 135.4L399.4 139.2L401.1 138.5L403.5 132.9L402.1 131.9L400.8 130.7L402.5 128.8L401.7 127.6L401.5 126.3L402.5 125.1L401.1 124.9L400 124.4L397.6 125.3L397 129.2Z"/>
<path id="TUR" fill-rule="evenodd" d="M433.5 115.3L433.3 117L432.7 117L434.3 117.6L433.1 118.6L434.1 117.8L435.3 117.2L436.7 116.8L438.9 116.8L440.5 117.4L438.7 118L435.7 118L433.1 118.8L433.1 119.9L434.7 120.3L433.7 122L435.1 123.4L435.5 125.1L437.3 125.5L439.7 126.7L441.7 126.5L442.8 125.5L445.8 126.9L448.4 126.7L450.2 125.5L451.8 125.9L453.2 125.5L452.8 126.5L452.4 127.8L452.4 128L452.6 127.3L453.6 126.7L454.2 125.7L456.9 125.5L460.9 125.5L465.7 124.9L470.6 124.6L469.5 123L469.7 120.9L470.6 119.5L468.3 118.4L467.9 116.6L463.9 115.7L460.9 116.8L457.9 116.8L454.8 116.4L452.8 115.3L450.8 114.5L447.8 114.7L444.8 115.3L443.4 116.4L440.7 116.4L438.9 116.4L436.7 115.1L436.7 114.7L435.3 114.5Z"/>
<path id="TWN" fill-rule="evenodd" d="M624.1 150L622.3 153.1L622.5 154.5L623.9 156.2L625.3 152L626.1 150L625.1 149.3ZM621.3 153L621.4 152.8L621.2 152.7L621.1 152.9Z"/>
<path id="TZA" fill-rule="evenodd" d="M460.3 213L460.7 212.6L460.3 212ZM459.9 214.2L459.3 213.8L459.7 215.1ZM442.3 206.6L442.3 208.4L440.7 210.9L439.5 210.9L439.5 214.2L442.3 218.8L446.6 221.3L448.8 221.5L450 225.7L452.8 225.9L456.9 225.2L461.7 223.6L459.9 221.5L459.9 218.4L459.9 216.3L458.5 214.2L459.3 211.5L456 208L448.8 203.9L441.7 203.9Z"/>
<path id="UGA" fill-rule="evenodd" d="M440.7 200.1L439.9 202.8L439.9 204.7L441.7 203.9L448.8 203.9L448.8 201.4L450.8 198.3L449.8 195.2L448.8 193.1L447.8 193.9L442.8 194.1L442.3 194.5L442.8 197.2Z"/>
<path id="UKR" fill-rule="evenodd" d="M460.3 101.2L461.1 98.9L456.9 98.3L453.8 97.5L451.8 96L448.4 93.1L444.4 93.7L441.7 95.2L438.7 94.8L434.7 94.6L430.7 94.2L427.8 95L428.9 96.4L426 98.9L425.8 100L425 101.4L426.4 102.2L426.6 102.2L430.7 102.7L433.9 101.6L436.1 101.4L439.1 102.7L440.7 105.6L437.1 107.4L440 108L441.3 106.4L442.3 105.4L444.6 104.9L445.8 106.2L447.8 106.4L446 107.6L447.8 109.3L448.8 109.7L451.4 108.5L453.8 107.8L450.8 106L451.4 105.2L454.4 104.7L456.9 104.1L457.6 104.1L460.5 102.7Z"/>
<path id="URY" fill-rule="evenodd" d="M273.1 269.6L272.1 269.2L270.5 267.1L268.3 266.1L267.5 265.7L264.3 264.4L263.9 265.7L263.1 268.2L263.1 270.2L262.6 272.3L263.9 273.4L267.1 274.2L269.5 274.2L271.5 273.4L272.7 271.9L272.7 271.7ZM264.7 274.8L262.6 273.6L262.6 274.4Z"/>
<path id="USA" fill-rule="evenodd" d="M39.8 70.7L37.8 69.7L34.8 70.1ZM32.7 76.8L33.1 76.4L32.5 76.3L32.1 76.6ZM46.3 76.9L43.9 76.9L45.9 77.8ZM38.3 84.6L38.5 84.3L38.2 84.2L37.9 84.5ZM54.5 87.7L54.7 87.4L54.5 87.4L57 86.7L60.4 85.7L63 84.4L66 82.8L69.4 81.3L71.1 80.1L70.1 79L71.5 78L73.7 76.1L76.1 75.3L78.5 74.9L75.3 76.3L74.5 79L78.7 77.8L81.3 77.4L82.1 75.7L85 75.3L87.2 76.3L90.6 77.4L95.2 77.4L98.7 78L102.3 79.6L104.9 81.1L107.1 80.9L107.9 79.4L110.3 81.1L111.4 82.8L114 84.4L114.8 86.5L117.2 87.3L117.5 88L118.4 87.3L118 85.4L114 83.4L110.3 79.6L108.1 78L105.3 78.4L103.3 79.6L99.9 77.2L96.2 76.7L96.2 57.4L88.2 56.6L82.1 56L78.1 55.8L74.1 55L69 54.8L65 53.9L62 55L54.9 56L51.9 57.4L45.9 58.9L44.3 60L48.9 61.4L50.5 62.6L54.9 63.9L54.3 64.7L50.3 64.7L49.3 63.9L45.3 64.5L41.8 65.7L43.9 66.6L45.5 67.8L48.3 68L52.5 68.2L54.9 68L56.4 68.4L55.5 70.1L51.5 70.9L48.7 70.9L47.3 71.8L45.9 73.6L47.3 75.7L49.5 77.6L52.3 77.6L53.9 78.4L54.3 80.3L57.4 80.1L61 79.8L63.2 80.3L62.4 82.3L60 83.8L57 85.7L52.9 86.3L48.9 87.7L48.3 88.8L51.5 88.1L53.9 87.5L54.1 87.5L53.9 87.6ZM57.8 88L58.4 87.6L57.4 87.4L56.8 87.9ZM44.9 90.9L46.3 90.2L44.9 90.1L43.5 90.8ZM40.8 91.5L42.3 90.8L40.8 90.7L39.4 91.4ZM36.8 92.1L38.2 91.4L36.8 91.3L35.4 92ZM32.8 92.7L34.2 92L32.8 91.9L31.4 92.6ZM28.8 93.3L30.2 92.5L28.8 92.4L27.3 93.2ZM24.7 93.8L26.1 93.1L24.7 93L23.3 93.7ZM21.7 94.3L23.1 93.6L21.7 93.5L20.3 94.2ZM59.4 156L58.6 155.8L59 156.4ZM62.6 157.4L61.6 157L62 157.6ZM83.3 77L83.8 76.6L83 76.4L82.5 76.9ZM71.8 81.4L72.3 80.9L71.5 80.8L71.1 81.2ZM108.7 83.2L106.7 81.5L107.7 83.6ZM70.1 84L73.1 83L73.5 81.7L69 82.5ZM110.3 85.7L112 87.3L113.4 85.7L111.4 84ZM248.3 111.4L248.7 111.1L247.2 110L246.9 110.8ZM239.3 116.3L239.5 116.1L239.1 116L238.9 116.2ZM238.1 115.7L239.3 115.1L237.7 113.7L237.9 112.4L239.3 111.2L242.3 109.9L245.3 108.9L245.5 108.8L245.3 108.7L243.7 106.8L242.9 103.7L240.9 103.5L239.3 104.9L238.7 106.6L236.3 108.5L229.2 108.5L226.2 110.1L221.1 111.8L221.1 113L214.1 115.3L213.1 114.3L214.3 112.6L214.1 107.8L212.1 106.4L210.1 105.4L209.5 104.5L202.4 101.6L200 102.2L195 101.6L189.5 100.6L188.5 99.3L188.5 100.2L132.5 100.2L133.9 101.8L133.5 103.7L132.1 101.8L129.1 101.6L130.5 106L130.5 109.5L129.7 113.2L130.3 115.7L129.9 118L130.9 119.9L132.5 122.4L133.5 123.4L133.7 124.6L134.9 126.1L137.1 128.8L137.3 130.2L139.6 130.7L141.6 131.3L143.8 132.7L144.4 134.4L149.2 134L156.7 136.9L162.3 136.9L162.3 135.8L165.7 135.8L169.8 140.4L172.4 141.7L173.8 140L176 140L179.8 144.8L180.9 147L184.3 148L184.1 145.4L185.7 143.3L188.5 141.7L190.9 140.4L193.9 140.4L196.4 140.8L198.6 141.4L200.6 141.4L200 140L200 139.2L203 139L206.4 138.8L208.5 140.4L210.5 139.6L211.7 139.8L213.7 142.1L213.7 144.6L215.5 147.9L217.1 149.7L218.7 149.1L219.1 146.2L218.1 143.3L216.7 140.6L216.1 138.5L216.7 136.9L217.9 134.8L221.1 132.7L223.6 131.3L226.2 129.8L228.2 128.6L227.4 126.1L226.6 125.3L225.4 122.4L226.6 122L226.6 125.1L227.6 124.6L229 122L228.2 119.9L229.4 120.9L231.2 119.5L231 117.8L231.8 117.2L231.9 117.2L233.7 117.3L234.6 117L233.1 116.9L235.2 116.4ZM138.7 131.4L139.1 131.2L138.4 131.1L138 131.4ZM141.7 132.7L141.9 132.4L141.5 132.3L141.3 132.6ZM216.3 150.9L216.8 150.7L216 150.7L215.4 150.8ZM66 158.7L64.6 158.5L65.2 159.1ZM66 161.1L66.6 162.4L68 160.9L66.2 159.9Z"/>
<path id="UZB" fill-rule="evenodd" d="M519.5 115.9L517.3 117.4L514.7 116.4L513.3 113.9L513.3 112.6L511 111.2L505.2 111.6L503.2 109.9L498.4 107.2L493.1 108.5L493.1 116.1L495.1 116.1L495.3 114.7L498.4 113.2L501.2 114.3L501.4 115.9L505 116.6L506.2 118.8L510.2 121.1L514.3 123L514.3 124.2L516.9 124.6L517.9 122.6L516.3 119.9L518.5 119.7L518.5 118.4L519.9 117.2L522.3 116.8L522.5 118.2L524.5 118.4L526.2 117.9L527.6 117.1L526.4 116.6L524.7 115.8L523.1 114.1L521.3 115.7Z"/>
<path id="VCT" fill-rule="evenodd" d="M256.6 174.8L257.4 174.8L257.4 174L256.6 174Z"/>
<path id="VEN" fill-rule="evenodd" d="M236.8 176.8L236.7 177.3L236.9 177.1ZM251.8 179L251.3 178.9L251 179.2L251.5 179.3ZM234.4 186.5L235.2 187.3L239.1 187.3L240.5 189.1L244.3 188.9L243.7 190.8L243.7 193.1L244.7 194.7L243.7 196L244.9 197L245.5 199.3L248.5 200.3L251 198.9L251.4 196.8L253.4 196.8L250.8 194.5L250.4 193.1L253.8 194.1L257.4 192.5L258 191L256.6 189.6L257 188.1L258.8 187.3L258 186.2L259.4 184.8L259.7 184.6L257.8 184.2L257.4 182.1L254.8 181.3L253.8 180.2L255.6 179.6L253.4 179.6L250.8 180L249.4 180.9L246.9 179.8L242.9 179.8L242.3 178.4L239.9 177.9L239.1 176.5L238.7 178.2L236.7 179.4L237.3 181.5L236.3 182.7L235.2 181.1L236.1 179.4L235.5 178.4L236.6 177.4L234.2 178.8L233.2 182.1L234.2 184.2Z"/>
<path id="VNM" fill-rule="evenodd" d="M602.9 158.1L601.7 157.9L602.5 159.7ZM592.4 153.5L588.8 154.7L586.2 155.3L588.2 158.5L590.8 159.1L591.4 160.5L589.8 161.8L592.4 164.1L595.3 167.6L596.9 168.8L596.9 171.3L596.9 174.8L596.9 176.3L594.5 177.8L593.6 179L592.3 179.2L590.6 180.2L591.8 180.6L591.4 182.5L592.4 183.8L594.9 181.7L595.9 180.2L597.9 179.4L600.3 177.5L600.7 175.3L600.3 171.7L598.9 168.6L596.9 167.4L594.9 165.1L593.2 162.8L593.8 160.7L595.5 158.9L597.9 157.2L595.3 156.4L595.3 154.5Z"/>
<path id="VUT" fill-rule="evenodd" d="M716.3 234.2L717.1 233.9L715.9 232.9ZM718.3 236L717.3 235L717.5 236ZM719.8 238.7L719.2 238.3L719.2 238.7Z"/>
<path id="XXS" fill-rule="evenodd" d="M250.3 134.6L249.6 134.4L249.2 135L249.9 135.2ZM219.9 160.8L219.2 160.6L218.8 161.1L219.5 161.3ZM217.1 161.6L216.4 161.4L215.9 161.9L216.7 162.1ZM250.5 163.7L249.8 163.5L249.4 164L250.1 164.2ZM253.8 163.9L253.2 163.7L252.7 164.2L253.4 164.4ZM254.4 165.7L253.8 165.5L253.3 166.1L254.1 166.3ZM239.8 175.7L239.2 175.5L238.7 176L239.4 176.2ZM243.3 176.3L242.6 176.1L242.1 176.6L242.9 176.9ZM242.1 176.4L241.4 176.2L240.9 176.8L241.7 177ZM251.9 178.8L251.3 178.6L250.8 179.1L251.5 179.4ZM63.8 197.7L63.1 197.4L62.6 198L63.4 198.3ZM315.6 209.6L314.9 209.4L314.5 210L315.2 210.2ZM98.6 220.1L97.9 219.8L97.5 220.4L98.2 220.7ZM100.8 221.9L100.2 221.7L99.7 222.3L100.4 222.5ZM33.9 230L33.3 229.8L32.8 230.4L33.6 230.6ZM34.7 230.2L34.2 230.8L35 231L35.4 230.4ZM75.2 236L74.7 236.6L75.5 236.9L75.9 236.2ZM79.7 238.1L79 237.9L78.6 238.5L79.3 238.7ZM30.3 240.4L29.6 240.2L29.2 240.7L29.9 241ZM321.8 244.1L321.2 243.9L320.7 244.5L321.4 244.7ZM58.9 245.6L58.3 245.4L57.8 245.9L58.5 246.2ZM27.9 245.6L27.2 245.4L26.8 245.9L27.5 246.2ZM160.5 257.8L159.8 257.6L159.3 258.2L160.1 258.4ZM25.3 292.6L24.6 292.4L24.2 293L24.9 293.3ZM481.9 147.4L481.5 147.9L482.2 148.2L482.5 147.6ZM606.4 166.3L605.9 166.9L606.7 167.2L607.1 166.5ZM605.7 167.4L605 167.1L604.5 167.8L605.3 168ZM603.3 178.8L602.6 178.5L602.1 179.2L602.9 179.4ZM608.4 183.1L607.6 182.9L607.1 183.5L607.9 183.8ZM606.3 183.7L605.6 183.5L605.1 184.1L605.9 184.4ZM609.2 185.8L608.4 185.6L607.9 186.2L608.7 186.5ZM528.7 187.5L528.1 187.3L527.7 187.9L528.3 188.1ZM528.9 192.9L528.3 192.7L527.9 193.3L528.5 193.5ZM527.5 200.1L527.1 200.7L527.7 201L528.1 200.3ZM492 210.9L491.6 211.5L492.3 211.8L492.6 211.1ZM526.7 216.7L526.1 216.5L525.7 217.1L526.3 217.4ZM351.9 218.1L351.2 217.9L350.7 218.5L351.5 218.7ZM474.1 221.1L473.5 220.9L473.1 221.5L473.7 221.7ZM593.7 223.4L593.1 223.2L592.7 223.7L593.4 224ZM576 226.7L575.4 226.5L575 227.1L575.7 227.3ZM471.9 228.1L471.3 227.9L470.9 228.5L471.5 228.8ZM369.4 234.7L368.7 234.5L368.3 235L369 235.3ZM508.5 242.5L507.9 242.2L507.5 242.8L508.2 243.1ZM356.1 278.5L355.4 278.3L355 278.9L355.7 279.2ZM536.7 280.5L536.4 280.4L536.1 280.7L536.5 280.9ZM485 297.9L484.4 297.7L484 298.2L484.6 298.3ZM456.8 298.9L456.1 298.8L455.7 299.2L456.4 299.4ZM521.5 303.7L520.1 303.3L519.1 304.3L520.7 304.8ZM618 170L617.3 169.8L616.8 170.5L617.6 170.7ZM674.4 170.1L673.7 169.9L673.3 170.4L674 170.7ZM671.9 173.4L671.4 174L672.2 174.2L672.6 173.6ZM610.4 177.7L610 178.3L610.8 178.6L611.2 177.9ZM616.4 178.3L615.7 178.1L615.2 178.8L616 179ZM614.2 179.4L613.5 179.2L613 179.8L613.8 180.1ZM610.2 180.8L609.4 180.6L609 181.2L609.7 181.5ZM615.6 181L614.9 180.8L614.4 181.4L615.2 181.7ZM612.4 182.3L611.7 182.1L611.2 182.7L612 183ZM613.6 184.4L612.9 184.1L612.4 184.8L613.2 185ZM651.8 186L651.2 185.8L650.7 186.4L651.4 186.7ZM686 186L685.6 186.6L686.3 186.9L686.7 186.2ZM725.1 186.7L724.6 187.2L725.4 187.5L725.8 186.9ZM699.6 187.3L698.9 187.1L698.4 187.7L699.2 187.9ZM709.2 190.6L708.6 190.4L708.1 191L708.8 191.2ZM729.4 198.7L728.7 198.5L728.3 199.1L729 199.3ZM717.1 202.6L716.4 202.4L716 203L716.7 203.3ZM741.9 219.2L741.2 219L740.8 219.6L741.5 219.8ZM719.1 261.7L718.4 261.5L718 262.1L718.7 262.4ZM741.1 304.7L740.4 304.5L739.9 305L740.7 305.3ZM714.6 306.5L714.2 307.1L714.9 307.4L715.3 306.7ZM720.7 310.3L720.2 310.9L720.9 311.1L721.3 310.5Z"/>
<path id="YEM" fill-rule="evenodd" d="M479.2 163.2L477 164.1L475 166.5L469.9 165.7L467.3 165.7L466.5 167.8L466.5 170.7L467.3 173.8L467.9 175.5L471 175.3L476 173.6L480 171.5L485.1 169.4L487.3 167.4L487.3 167.3L485.1 162.4ZM465.4 170.2L465.3 170L465.2 170.4L465.4 170.5ZM490.1 175.7L487.9 175.7L489.1 176.3Z"/>
<path id="ZAF" fill-rule="evenodd" d="M443.4 258.4L442.3 257.4L442.8 255.3L444.6 255.5L444.8 252.6L443.4 248.3L439.5 247.8L437.3 248.7L434.5 251.2L432.3 253.7L429.7 255.1L426.2 254.5L424.2 257.2L422 257.4L420.6 253.2L420.6 260.7L418.6 261.9L415.6 261.5L413.5 261.1L415.6 265.1L417.2 268.2L417.2 270.2L417.6 272.9L420.6 274L424.6 272.7L428.7 272.5L432.1 272.3L434.7 271.7L437.7 269.8L440.7 266.7L442.8 263.8L443.8 263L445.8 260.9L446.6 257.6L445 257.4ZM434.7 263.2L436.7 261.3L439.3 262.8L438.9 264L437.1 265.3L435.5 264.6Z"/>
<path id="ZMB" fill-rule="evenodd" d="M424.6 228.8L424.6 235.4L427.4 238.3L431.3 238.7L434.7 238.9L438.3 236L441.5 234.2L441.1 232.9L447.2 230.8L446.2 230L447.4 227.7L447.4 224.6L446.6 221.3L442.3 218.8L438.5 219.4L437.5 221.1L437.5 226.5L440.3 227.1L440.3 229.6L438.7 229.6L437.7 228.1L435.9 227.3L434.7 226.7L432.7 226.5L431.5 225L429.5 225.4L428.7 224.4L428.7 228.8Z"/>
<path id="ZWE" fill-rule="evenodd" d="M436.1 244.3L436.7 246.4L439.5 247.8L443.4 248.3L445.8 246L446.8 243.3L446.2 242.2L446.8 239.1L446.6 236.4L443.4 235L441.5 234.2L438.3 236L434.7 238.9L431.3 238.7L433.1 242.2Z"/>
<path id="t0" d="M278.2 202.3L280.4 202.2L282.4 202.8L282.6 204.5L281 205.3L278.8 205.5L278 203.9Z"/>
<path id="t1" d="M233 314.5L233.5 314L234.2 314.2L233.8 314.7Z"/>
<path id="t2" d="M232.1 314.8L232.7 314L233.7 314.3L233.1 315.1Z"/>
<path id="t3" d="M234.7 313.8L235.2 312.7L236 313.1L235.5 314.3Z"/>
<path id="t4" d="M234.9 313.8L235.4 312.9L236.2 313.2L235.7 314.2Z"/>
<path id="t5" d="M236.1 312.5L236.7 311.4L237.5 311.8L237 312.9Z"/>
<path id="t6" d="M233.2 312.3L233.7 311.2L234.3 311.6L233.9 312.7Z"/>
<path id="t7" d="M231.3 311.4L231.9 310.6L232.8 310.9L232.3 311.7Z"/>
<path id="t8" d="M234 311.3L234.4 310.5L235 310.8L234.6 311.7Z"/>
<path id="t9" d="M232 310L232.6 309L233.5 309.4L233 310.5Z"/>
<path id="t10" d="M232.7 310.4L233.2 309.3L234.1 309.7L233.6 310.9Z"/>
<path id="t11" d="M232.2 308.9L232.6 307.8L233.1 308.2L232.8 309.3Z"/>
<path id="t12" d="M230.6 309.3L231.2 308.2L232.1 308.6L231.6 309.8Z"/>
<path id="t13" d="M230 307.8L230.4 307.2L230.9 307.4L230.6 308.1Z"/>
<path id="t14" d="M231.7 308L232.2 307.5L232.9 307.7L232.5 308.2Z"/>
<path id="t15" d="M230.7 306.4L231.3 305.6L232.2 305.9L231.7 306.8Z"/>
<path id="t16" d="M231.6 306.8L232.1 306.4L232.8 306.5L232.4 307Z"/>
<path id="t17" d="M229.5 305.4L229.9 304.9L230.4 305.1L230.1 305.6Z"/>
<path id="t18" d="M231 305.2L231.5 304.5L232.4 304.8L231.9 305.5Z"/>
<path id="t19" d="M230 304.3L230.5 303.5L231.2 303.8L230.8 304.7Z"/>
<path id="t20" d="M230.5 304.4L230.9 303.5L231.6 303.8L231.2 304.8Z"/>
<path id="t21" d="M229.5 303L229.9 302.1L230.6 302.4L230.2 303.3Z"/>
<path id="t22" d="M229.1 303.2L229.4 302.3L229.8 302.6L229.5 303.6Z"/>
<path id="t23" d="M230.5 302.1L231 301.1L231.6 301.5L231.2 302.5Z"/>
<path id="t24" d="M230 301.9L230.3 301.4L230.7 301.6L230.4 302.1Z"/>
<path id="t25" d="M230.6 301.1L231.1 300.3L231.7 300.6L231.3 301.5Z"/>
<path id="t26" d="M229.7 301.1L230.1 300.2L230.8 300.5L230.4 301.5Z"/>
<path id="t27" d="M229.8 299.7L230.1 298.8L230.6 299.1L230.3 300Z"/>
<path id="t28" d="M230.6 299.9L231.2 299.3L232 299.5L231.5 300.2Z"/>
<path id="t29" d="M229.5 298.5L229.8 297.8L230.3 298.1L230 298.8Z"/>
<path id="t30" d="M229.6 298.6L230.1 298.1L231 298.3L230.5 298.9Z"/>
<path id="t31" d="M229.7 297.2L230.2 296.6L230.8 296.9L230.5 297.5Z"/>
<path id="t32" d="M229 297.8L229.6 296.8L230.4 297.1L229.9 298.2Z"/>
<path id="t33" d="M229.3 296.3L229.8 295.2L230.5 295.6L230.1 296.7Z"/>
<path id="t34" d="M229.6 296.5L230.2 295.8L231 296.1L230.5 296.7Z"/>
<path id="t35" d="M229.8 295.4L230.2 294.3L230.8 294.7L230.5 295.9Z"/>
<path id="t36" d="M229.1 295.1L229.7 293.9L230.5 294.3L230 295.6Z"/>
<path id="t37" d="M230.1 293.9L230.5 292.9L231 293.3L230.7 294.3Z"/>
<path id="t38" d="M231.1 294.1L231.5 293.4L232.1 293.6L231.7 294.4Z"/>
<path id="t39" d="M229.5 293L229.9 292L230.5 292.3L230.1 293.4Z"/>
<path id="t40" d="M228.8 292.9L229.4 291.8L230.3 292.2L229.7 293.4Z"/>
<path id="t41" d="M231.1 292.1L231.6 291.5L232.4 291.7L232 292.3Z"/>
<path id="t42" d="M229.7 291.9L230.1 290.8L230.7 291.2L230.4 292.4Z"/>
<path id="t43" d="M390.9 78.4L391.3 77.7L391.9 78L391.5 78.6Z"/>
<path id="t44" d="M390.9 76.5L391.3 76.1L391.9 76.3L391.6 76.7Z"/>
<path id="t45" d="M391.4 75.1L391.8 74.5L392.3 74.7L392 75.3Z"/>
<path id="t46" d="M392.3 73.5L392.9 73.2L393.6 73.3L393.2 73.7Z"/>
<path id="t47" d="M393.3 72L393.6 71.6L394.1 71.7L393.8 72.2Z"/>
<path id="t48" d="M394.1 70.7L394.5 70.2L395.2 70.4L394.8 71Z"/>
<path id="t49" d="M396.3 69.5L396.6 69.2L397.1 69.3L396.8 69.7Z"/>
<path id="t50" d="M397.2 68.1L397.8 67.4L398.6 67.7L398.1 68.4Z"/>
<path id="t51" d="M399.5 66.3L399.9 65.8L400.5 66L400.2 66.5Z"/>
<path id="t52" d="M402.2 64.7L402.6 64.2L403.3 64.4L402.9 64.9Z"/>
<path id="t53" d="M404.9 63.4L405.2 62.9L405.7 63.1L405.4 63.6Z"/>
<path id="t54" d="M408.4 61.9L408.7 61.4L409.3 61.6L409 62Z"/>
<path id="t55" d="M411.1 60.2L411.7 59.8L412.4 59.9L412 60.4Z"/>
<path id="t56" d="M415.3 58.7L415.7 58.3L416.3 58.4L416 58.9Z"/>
<path id="t57" d="M418.8 57.2L419.2 56.6L419.9 56.8L419.5 57.5Z"/>
<path id="t58" d="M422.9 56L423.4 55.4L424 55.6L423.6 56.3Z"/>
<path id="t59" d="M106.8 80.9L107.3 80L107.9 80.3L107.5 81.2Z"/>
<path id="t60" d="M109.1 82.3L109.6 81.5L110.4 81.8L110 82.6Z"/>
<path id="t61" d="M110.5 83.7L110.8 82.9L111.3 83.2L111 84Z"/>
<path id="t62" d="M112.2 84.8L112.8 84.1L113.5 84.4L113.1 85.1Z"/>
<path id="t63" d="M114.2 86.4L114.5 85.8L115.1 86L114.8 86.7Z"/>
<path id="t64" d="M115.1 88.1L115.6 87.6L116.4 87.8L115.9 88.3Z"/>
<path id="t65" d="M116.8 89.5L117.3 89L118.1 89.2L117.7 89.8Z"/>
<path id="t66" d="M118.7 90.6L119 89.8L119.5 90.1L119.2 90.9Z"/>
<path id="t67" d="M120.6 92L121.2 91.3L122 91.5L121.5 92.3Z"/>
<path id="t68" d="M122.4 93.9L122.9 93.3L123.7 93.5L123.3 94.2Z"/>
</defs>
<g><use href="#AFG" fill="#f4a582"/><use href="#AGO" fill="#d6604d"/><use href="#ALB" fill="#92c5de"/><use href="#ARE" fill="#4393c3"/><use href="#ARG" fill="#f4a582"/><use href="#ARM" fill="#d6604d"/><use href="#ATG" fill="#f7f7f7"/><use href="#AUS" fill="#b2182b"/><use href="#AUT" fill="#92c5de"/><use href="#AZE" fill="#f4a582"/><use href="#BDI" fill="#f7f7f7"/><use href="#BEL" fill="#b2182b"/><use href="#BEN" fill="#f7f7f7"/><use href="#BFA" fill="#d6604d"/><use href="#BGD" fill="#2166ac"/><use href="#BGR" fill="#f4a582"/><use href="#BHS" fill="#f7f7f7"/><use href="#BIH" fill="#92c5de"/><use href="#BLR" fill="#d1e5f0"/><use href="#BLZ" fill="#f7f7f7"/><use href="#BOL" fill="#2166ac"/><use href="#BRA" fill="#f4a582"/><use href="#BRB" fill="#f7f7f7"/><use href="#BRN" fill="#fddbc7"/><use href="#BTN" fill="#f7f7f7"/><use href="#BWA" fill="#d6604d"/><use href="#CAF" fill="#67001f"/><use href="#CAN" fill="#b2182b"/><use href="#CHE" fill="#f4a582"/><use href="#CHL" fill="#4393c3"/><use href="#CHN" fill="#4393c3"/><use href="#CIV" fill="#2166ac"/><use href="#CMR" fill="#d6604d"/><use href="#COD" fill="#67001f"/><use href="#COG" fill="#d6604d"/><use href="#COL" fill="#f7f7f7"/><use href="#COM" fill="#f7f7f7"/><use href="#CPV" fill="#f7f7f7"/><use href="#CRI" fill="#2166ac"/><use href="#CUB" fill="#92c5de"/><use href="#CYP" fill="#2166ac"/><use href="#CZE" fill="#2166ac"/><use href="#DEU" fill="#fddbc7"/><use href="#DJI" fill="#fddbc7"/><use href="#DMA" fill="#f7f7f7"/><use href="#DNK" fill="#f7f7f7"/><use href="#DOM" fill="#fddbc7"/><use href="#DZA" fill="#92c5de"/><use href="#ECU" fill="#2166ac"/><use href="#EGY" fill="#d1e5f0"/><use href="#ERI" fill="#d6604d"/><use href="#ESH" fill="#f7f7f7"/><use href="#ESP" fill="#4393c3"/><use href="#EST" fill="#2166ac"/><use href="#ETH" fill="#4393c3"/><use href="#FIN" fill="#92c5de"/><use href="#FJI" fill="#f7f7f7"/><use href="#FRA" fill="#92c5de"/><use href="#FRO" fill="#f7f7f7"/><use href="#GAB" fill="#b2182b"/><use href="#GBR" fill="#b2182b"/><use href="#GEO" fill="#67001f"/><use href="#GHA" fill="#d6604d"/><use href="#GIN" fill="#67001f"/><use href="#GLP" fill="#f7f7f7"/><use href="#GMB" fill="#f7f7f7"/><use href="#GNB" fill="#f4a582"/><use href="#GNQ" fill="#2166ac"/><use href="#GRC" fill="#f7f7f7"/><use href="#GRD" fill="#f7f7f7"/><use href="#GRL" fill="#67001f"/><use href="#GTM" fill="#4393c3"/><use href="#GUF" fill="#92c5de"/><use href="#GUY" fill="#67001f"/><use href="#HND" fill="#fddbc7"/><use href="#HRV" fill="#2166ac"/><use href="#HTI" fill="#b2182b"/><use href="#HUN" fill="#2166ac"/><use href="#IDN" fill="#fddbc7"/><use href="#IND" fill="#fddbc7"/><use href="#IRL" fill="#d1e5f0"/><use href="#IRN" fill="#b2182b"/><use href="#IRQ" fill="#4393c3"/><use href="#ISL" fill="#f7f7f7"/><use href="#ISR" fill="#4393c3"/><use href="#ITA" fill="#fddbc7"/><use href="#JAM" fill="#92c5de"/><use href="#JOR" fill="#92c5de"/><use href="#JPN" fill="#2166ac"/><use href="#KAZ" fill="#92c5de"/><use href="#KEN" fill="#d6604d"/><use href="#KGZ" fill="#67001f"/><use href="#KHM" fill="#92c5de"/><use href="#KOR" fill="#4393c3"/><use href="#KWT" fill="#92c5de"/><use href="#LAO" fill="#2166ac"/><use href="#LBN" fill="#92c5de"/><use href="#LBR" fill="#4393c3"/><use href="#LBY" fill="#fddbc7"/><use href="#LCA" fill="#f7f7f7"/><use href="#LKA" fill="#d6604d"/><use href="#LSO" fill="#67001f"/><use href="#LTU" fill="#d1e5f0"/><use href="#LUX" fill="#fddbc7"/><use href="#LVA" fill="#4393c3"/><use href="#MAR" fill="#d1e5f0"/><use href="#MDA" fill="#67001f"/><use href="#MDG" fill="#f4a582"/><use href="#MEX" fill="#d1e5f0"/><use href="#MKD" fill="#4393c3"/><use href="#MLI" fill="#fddbc7"/><use href="#MLT" fill="#f7f7f7"/><use href="#MMR" fill="#2166ac"/><use href="#MNE" fill="#92c5de"/><use href="#MNG" fill="#fddbc7"/><use href="#MOZ" fill="#b2182b"/><use href="#MRT" fill="#92c5de"/><use href="#MTQ" fill="#f7f7f7"/><use href="#MUS" fill="#f7f7f7"/><use href="#MWI" fill="#d1e5f0"/><use href="#MYS" fill="#fddbc7"/><use href="#NAM" fill="#d6604d"/><use href="#NCL" fill="#2166ac"/><use href="#NER" fill="#f4a582"/><use href="#NGA" fill="#d1e5f0"/><use href="#NIC" fill="#4393c3"/><use href="#NLD" fill="#f7f7f7"/><use href="#NOR" fill="#d6604d"/><use href="#NPL" fill="#4393c3"/><use href="#NZL" fill="#d6604d"/><use href="#OMN" fill="#4393c3"/><use href="#PAK" fill="#d1e5f0"/><use href="#PAN" fill="#f4a582"/><use href="#PER" fill="#2166ac"/><use href="#PHL" fill="#67001f"/><use href="#PNG" fill="#b2182b"/><use href="#POL" fill="#2166ac"/><use href="#PRI" fill="#4393c3"/><use href="#PRK" fill="#b2182b"/><use href="#PRT" fill="#2166ac"/><use href="#PRY" fill="#b2182b"/><use href="#PSE" fill="#92c5de"/><use href="#QAT" fill="#2166ac"/><use href="#REU" fill="#f7f7f7"/><use href="#ROU" fill="#fddbc7"/><use href="#RUS" fill="#d1e5f0"/><use href="#RWA" fill="#4393c3"/><use href="#SAU" fill="#4393c3"/><use href="#SDN" fill="#92c5de"/><use href="#SEN" fill="#f7f7f7"/><use href="#SLB" fill="#f7f7f7"/><use href="#SLE" fill="#f4a582"/><use href="#SLV" fill="#92c5de"/><use href="#SOM" fill="#67001f"/><use href="#SRB" fill="#92c5de"/><use href="#SSD" fill="#b2182b"/><use href="#STP" fill="#f7f7f7"/><use href="#SUR" fill="#f7f7f7"/><use href="#SVK" fill="#4393c3"/><use href="#SVN" fill="#2166ac"/><use href="#SWE" fill="#67001f"/><use href="#SWZ" fill="#b2182b"/><use href="#SYR" fill="#d1e5f0"/><use href="#TCD" fill="#b2182b"/><use href="#TGO" fill="#d6604d"/><use href="#THA" fill="#f4a582"/><use href="#TJK" fill="#d1e5f0"/><use href="#TKM" fill="#f4a582"/><use href="#TLS" fill="#fddbc7"/><use href="#TTO" fill="#f7f7f7"/><use href="#TUN" fill="#2166ac"/><use href="#TUR" fill="#2166ac"/><use href="#TWN" fill="#4393c3"/><use href="#TZA" fill="#92c5de"/><use href="#UGA" fill="#f4a582"/><use href="#UKR" fill="#67001f"/><use href="#URY" fill="#67001f"/><use href="#USA" fill="#f7f7f7"/><use href="#UZB" fill="#d6604d"/><use href="#VCT" fill="#f7f7f7"/><use href="#VEN" fill="#fddbc7"/><use href="#VNM" fill="#d6604d"/><use href="#VUT" fill="#f7f7f7"/><use href="#XXS" fill="#f7f7f7"/><use href="#YEM" fill="#f7f7f7"/><use href="#ZAF" fill="#67001f"/><use href="#ZMB" fill="#d1e5f0"/><use href="#ZWE" fill="#67001f"/><use href="#t0" fill="#f4a582"/><use href="#t1" fill="#4393c3"/><use href="#t2" fill="#4393c3"/><use href="#t3" fill="#4393c3"/><use href="#t4" fill="#4393c3"/><use href="#t5" fill="#4393c3"/><use href="#t6" fill="#4393c3"/><use href="#t7" fill="#4393c3"/><use href="#t8" fill="#4393c3"/><use href="#t9" fill="#4393c3"/><use href="#t10" fill="#4393c3"/><use href="#t11" fill="#4393c3"/><use href="#t12" fill="#4393c3"/><use href="#t13" fill="#4393c3"/><use href="#t14" fill="#4393c3"/><use href="#t15" fill="#4393c3"/><use href="#t16" fill="#4393c3"/><use href="#t17" fill="#4393c3"/><use href="#t18" fill="#4393c3"/><use href="#t19" fill="#4393c3"/><use href="#t20" fill="#4393c3"/><use href="#t21" fill="#4393c3"/><use href="#t22" fill="#4393c3"/><use href="#t23" fill="#4393c3"/><use href="#t24" fill="#4393c3"/><use href="#t25" fill="#4393c3"/><use href="#t26" fill="#4393c3"/><use href="#t27" fill="#4393c3"/><use href="#t28" fill="#4393c3"/><use href="#t29" fill="#4393c3"/><use href="#t30" fill="#4393c3"/><use href="#t31" fill="#4393c3"/><use href="#t32" fill="#4393c3"/><use href="#t33" fill="#4393c3"/><use href="#t34" fill="#4393c3"/><use href="#t35" fill="#4393c3"/><use href="#t36" fill="#4393c3"/><use href="#t37" fill="#4393c3"/><use href="#t38" fill="#4393c3"/><use href="#t39" fill="#4393c3"/><use href="#t40" fill="#4393c3"/><use href="#t41" fill="#4393c3"/><use href="#t42" fill="#4393c3"/><use href="#t43" fill="#d6604d"/><use href="#t44" fill="#d6604d"/><use href="#t45" fill="#d6604d"/><use href="#t46" fill="#d6604d"/><use href="#t47" fill="#d6604d"/><use href="#t48" fill="#d6604d"/><use href="#t49" fill="#d6604d"/><use href="#t50" fill="#d6604d"/><use href="#t51" fill="#d6604d"/><use href="#t52" fill="#d6604d"/><use href="#t53" fill="#d6604d"/><use href="#t54" fill="#d6604d"/><use href="#t55" fill="#d6604d"/><use href="#t56" fill="#d6604d"/><use href="#t57" fill="#d6604d"/><use href="#t58" fill="#d6604d"/><use href="#t59" fill="#f7f7f7"/><use href="#t60" fill="#f7f7f7"/><use href="#t61" fill="#f7f7f7"/><use href="#t62" fill="#f7f7f7"/><use href="#t63" fill="#f7f7f7"/><use href="#t64" fill="#f7f7f7"/><use href="#t65" fill="#b2182b"/><use href="#t66" fill="#b2182b"/><use href="#t67" fill="#b2182b"/><use href="#t68" fill="#b2182b"/></g>
<g transform="translate(-3,341.6)"><use href="#AFG" fill="#d6604d"/><use href="#AGO" fill="#f4a582"/><use href="#ALB" fill="#92c5de"/><use href="#ARE" fill="#b2182b"/><use href="#ARG" fill="#fddbc7"/><use href="#ARM" fill="#f7f7f7"/><use href="#ATG" fill="#f7f7f7"/><use href="#AUS" fill="#fddbc7"/><use href="#AUT" fill="#92c5de"/><use href="#AZE" fill="#f7f7f7"/><use href="#BDI" fill="#f7f7f7"/><use href="#BEL" fill="#92c5de"/><use href="#BEN" fill="#fddbc7"/><use href="#BFA" fill="#67001f"/><use href="#BGD" fill="#4393c3"/><use href="#BGR" fill="#d1e5f0"/><use href="#BHS" fill="#f7f7f7"/><use href="#BIH" fill="#92c5de"/><use href="#BLR" fill="#b2182b"/><use href="#BLZ" fill="#d1e5f0"/><use href="#BOL" fill="#4393c3"/><use href="#BRA" fill="#f7f7f7"/><use href="#BRB" fill="#f7f7f7"/><use href="#BRN" fill="#f7f7f7"/><use href="#BTN" fill="#fddbc7"/><use href="#BWA" fill="#fddbc7"/><use href="#CAF" fill="#67001f"/><use href="#CAN" fill="#92c5de"/><use href="#CHE" fill="#4393c3"/><use href="#CHL" fill="#d1e5f0"/><use href="#CHN" fill="#2166ac"/><use href="#CIV" fill="#2166ac"/><use href="#CMR" fill="#d6604d"/><use href="#COD" fill="#67001f"/><use href="#COG" fill="#f4a582"/><use href="#COL" fill="#d1e5f0"/><use href="#COM" fill="#f7f7f7"/><use href="#CPV" fill="#f7f7f7"/><use href="#CRI" fill="#4393c3"/><use href="#CUB" fill="#92c5de"/><use href="#CYP" fill="#2166ac"/><use href="#CZE" fill="#2166ac"/><use href="#DEU" fill="#4393c3"/><use href="#DJI" fill="#b2182b"/><use href="#DMA" fill="#f7f7f7"/><use href="#DNK" fill="#4393c3"/><use href="#DOM" fill="#d6604d"/><use href="#DZA" fill="#f7f7f7"/><use href="#ECU" fill="#2166ac"/><use href="#EGY" fill="#f7f7f7"/><use href="#ERI" fill="#b2182b"/><use href="#ESH" fill="#f7f7f7"/><use href="#ESP" fill="#4393c3"/><use href="#EST" fill="#92c5de"/><use href="#ETH" fill="#4393c3"/><use href="#FIN" fill="#4393c3"/><use href="#FJI" fill="#b2182b"/><use href="#FRA" fill="#2166ac"/><use href="#FRO" fill="#f7f7f7"/><use href="#GAB" fill="#d6604d"/><use href="#GBR" fill="#fddbc7"/><use href="#GEO" fill="#f7f7f7"/><use href="#GHA" fill="#b2182b"/><use href="#GIN" fill="#67001f"/><use href="#GLP" fill="#f7f7f7"/><use href="#GMB" fill="#d6604d"/><use href="#GNB" fill="#b2182b"/><use href="#GNQ" fill="#2166ac"/><use href="#GRC" fill="#f7f7f7"/><use href="#GRD" fill="#f7f7f7"/><use href="#GRL" fill="#f7f7f7"/><use href="#GTM" fill="#2166ac"/><use href="#GUF" fill="#2166ac"/><use href="#GUY" fill="#f4a582"/><use href="#HND" fill="#f4a582"/><use href="#HRV" fill="#2166ac"/><use href="#HTI" fill="#d6604d"/><use href="#HUN" fill="#2166ac"/><use href="#IDN" fill="#d6604d"/><use href="#IND" fill="#fddbc7"/><use href="#IRL" fill="#4393c3"/><use href="#IRN" fill="#fddbc7"/><use href="#IRQ" fill="#d1e5f0"/><use href="#ISL" fill="#d1e5f0"/><use href="#ISR" fill="#4393c3"/><use href="#ITA" fill="#92c5de"/><use href="#JAM" fill="#f7f7f7"/><use href="#JOR" fill="#d1e5f0"/><use href="#JPN" fill="#92c5de"/><use href="#KAZ" fill="#2166ac"/><use href="#KEN" fill="#67001f"/><use href="#KGZ" fill="#f4a582"/><use href="#KHM" fill="#fddbc7"/><use href="#KOR" fill="#2166ac"/><use href="#KWT" fill="#f4a582"/><use href="#LAO" fill="#d1e5f0"/><use href="#LBN" fill="#d1e5f0"/><use href="#LBR" fill="#fddbc7"/><use href="#LBY" fill="#b2182b"/><use href="#LCA" fill="#f7f7f7"/><use href="#LKA" fill="#92c5de"/><use href="#LSO" fill="#67001f"/><use href="#LTU" fill="#f4a582"/><use href="#LUX" fill="#4393c3"/><use href="#LVA" fill="#f7f7f7"/><use href="#MAR" fill="#fddbc7"/><use href="#MDA" fill="#b2182b"/><use href="#MDG" fill="#b2182b"/><use href="#MEX" fill="#2166ac"/><use href="#MKD" fill="#4393c3"/><use href="#MLI" fill="#d6604d"/><use href="#MLT" fill="#f7f7f7"/><use href="#MMR" fill="#92c5de"/><use href="#MNE" fill="#d6604d"/><use href="#MNG" fill="#fddbc7"/><use href="#MOZ" fill="#67001f"/><use href="#MRT" fill="#f7f7f7"/><use href="#MTQ" fill="#f7f7f7"/><use href="#MUS" fill="#f7f7f7"/><use href="#MWI" fill="#4393c3"/><use href="#MYS" fill="#f7f7f7"/><use href="#NAM" fill="#b2182b"/><use href="#NCL" fill="#2166ac"/><use href="#NER" fill="#d6604d"/><use href="#NGA" fill="#d6604d"/><use href="#NIC" fill="#92c5de"/><use href="#NLD" fill="#92c5de"/><use href="#NOR" fill="#f4a582"/><use href="#NPL" fill="#d1e5f0"/><use href="#NZL" fill="#2166ac"/><use href="#OMN" fill="#d1e5f0"/><use href="#PAK" fill="#d6604d"/><use href="#PAN" fill="#d1e5f0"/><use href="#PER" fill="#2166ac"/><use href="#PHL" fill="#67001f"/><use href="#PNG" fill="#b2182b"/><use href="#POL" fill="#4393c3"/><use href="#PRI" fill="#2166ac"/><use href="#PRK" fill="#b2182b"/><use href="#PRT" fill="#92c5de"/><use href="#PRY" fill="#b2182b"/><use href="#PSE" fill="#d1e5f0"/><use href="#QAT" fill="#2166ac"/><use href="#REU" fill="#f7f7f7"/><use href="#ROU" fill="#fddbc7"/><use href="#RUS" fill="#d6604d"/><use href="#RWA" fill="#4393c3"/><use href="#SAU" fill="#d1e5f0"/><use href="#SDN" fill="#f7f7f7"/><use href="#SEN" fill="#d6604d"/><use href="#SLB" fill="#f7f7f7"/><use href="#SLE" fill="#67001f"/><use href="#SLV" fill="#92c5de"/><use href="#SOM" fill="#67001f"/><use href="#SRB" fill="#4393c3"/><use href="#SSD" fill="#67001f"/><use href="#STP" fill="#f7f7f7"/><use href="#SUR" fill="#fddbc7"/><use href="#SVK" fill="#92c5de"/><use href="#SVN" fill="#2166ac"/><use href="#SWE" fill="#4393c3"/><use href="#SWZ" fill="#67001f"/><use href="#SYR" fill="#d1e5f0"/><use href="#TCD" fill="#67001f"/><use href="#TGO" fill="#b2182b"/><use href="#THA" fill="#d1e5f0"/><use href="#TJK" fill="#fddbc7"/><use href="#TKM" fill="#d6604d"/><use href="#TLS" fill="#d6604d"/><use href="#TTO" fill="#f7f7f7"/><use href="#TUN" fill="#f7f7f7"/><use href="#TUR" fill="#2166ac"/><use href="#TWN" fill="#2166ac"/><use href="#TZA" fill="#d6604d"/><use href="#UGA" fill="#d6604d"/><use href="#UKR" fill="#67001f"/><use href="#URY" fill="#f4a582"/><use href="#USA" fill="#92c5de"/><use href="#UZB" fill="#f4a582"/><use href="#VCT" fill="#f7f7f7"/><use href="#VEN" fill="#f7f7f7"/><use href="#VNM" fill="#fddbc7"/><use href="#VUT" fill="#f7f7f7"/><use href="#XXS" fill="#f7f7f7"/><use href="#YEM" fill="#fddbc7"/><use href="#ZAF" fill="#67001f"/><use href="#ZMB" fill="#4393c3"/><use href="#ZWE" fill="#67001f"/><use href="#t0" fill="#f7f7f7"/><use href="#t1" fill="#d1e5f0"/><use href="#t2" fill="#d1e5f0"/><use href="#t3" fill="#d1e5f0"/><use href="#t4" fill="#d1e5f0"/><use href="#t5" fill="#d1e5f0"/><use href="#t6" fill="#d1e5f0"/><use href="#t7" fill="#d1e5f0"/><use href="#t8" fill="#d1e5f0"/><use href="#t9" fill="#d1e5f0"/><use href="#t10" fill="#d1e5f0"/><use href="#t11" fill="#d1e5f0"/><use href="#t12" fill="#d1e5f0"/><use href="#t13" fill="#d1e5f0"/><use href="#t14" fill="#d1e5f0"/><use href="#t15" fill="#d1e5f0"/><use href="#t16" fill="#d1e5f0"/><use href="#t17" fill="#d1e5f0"/><use href="#t18" fill="#d1e5f0"/><use href="#t19" fill="#d1e5f0"/><use href="#t20" fill="#d1e5f0"/><use href="#t21" fill="#d1e5f0"/><use href="#t22" fill="#d1e5f0"/><use href="#t23" fill="#d1e5f0"/><use href="#t24" fill="#d1e5f0"/><use href="#t25" fill="#d1e5f0"/><use href="#t26" fill="#d1e5f0"/><use href="#t27" fill="#d1e5f0"/><use href="#t28" fill="#d1e5f0"/><use href="#t29" fill="#d1e5f0"/><use href="#t30" fill="#d1e5f0"/><use href="#t31" fill="#d1e5f0"/><use href="#t32" fill="#d1e5f0"/><use href="#t33" fill="#d1e5f0"/><use href="#t34" fill="#d1e5f0"/><use href="#t35" fill="#d1e5f0"/><use href="#t36" fill="#d1e5f0"/><use href="#t37" fill="#d1e5f0"/><use href="#t38" fill="#d1e5f0"/><use href="#t39" fill="#d1e5f0"/><use href="#t40" fill="#d1e5f0"/><use href="#t41" fill="#d1e5f0"/><use href="#t42" fill="#d1e5f0"/><use href="#t43" fill="#f4a582"/><use href="#t44" fill="#f4a582"/><use href="#t45" fill="#f4a582"/><use href="#t46" fill="#f4a582"/><use href="#t47" fill="#f4a582"/><use href="#t48" fill="#f4a582"/><use href="#t49" fill="#f4a582"/><use href="#t50" fill="#f4a582"/><use href="#t51" fill="#f4a582"/><use href="#t52" fill="#f4a582"/><use href="#t53" fill="#f4a582"/><use href="#t54" fill="#f4a582"/><use href="#t55" fill="#f4a582"/><use href="#t56" fill="#f4a582"/><use href="#t57" fill="#f4a582"/><use href="#t58" fill="#f4a582"/><use href="#t59" fill="#92c5de"/><use href="#t60" fill="#92c5de"/><use href="#t61" fill="#92c5de"/><use href="#t62" fill="#92c5de"/><use href="#t63" fill="#92c5de"/><use href="#t64" fill="#92c5de"/><use href="#t65" fill="#92c5de"/><use href="#t66" fill="#92c5de"/><use href="#t67" fill="#92c5de"/><use href="#t68" fill="#92c5de"/></g>
<g transform="translate(0.1,685.5) scale(0.9983,1)"><use href="#AFG" fill="#d6604d"/><use href="#AGO" fill="#f4a582"/><use href="#ALB" fill="#92c5de"/><use href="#ARE" fill="#fddbc7"/><use href="#ARG" fill="#fddbc7"/><use href="#ARM" fill="#f7f7f7"/><use href="#ATG" fill="#f7f7f7"/><use href="#AUS" fill="#fddbc7"/><use href="#AUT" fill="#92c5de"/><use href="#AZE" fill="#d1e5f0"/><use href="#BDI" fill="#f7f7f7"/><use href="#BEL" fill="#4393c3"/><use href="#BEN" fill="#f4a582"/><use href="#BFA" fill="#67001f"/><use href="#BGD" fill="#4393c3"/><use href="#BGR" fill="#d1e5f0"/><use href="#BHS" fill="#f7f7f7"/><use href="#BIH" fill="#92c5de"/><use href="#BLR" fill="#b2182b"/><use href="#BLZ" fill="#d1e5f0"/><use href="#BOL" fill="#2166ac"/><use href="#BRA" fill="#f7f7f7"/><use href="#BRB" fill="#f7f7f7"/><use href="#BRN" fill="#f7f7f7"/><use href="#BTN" fill="#fddbc7"/><use href="#BWA" fill="#f4a582"/><use href="#CAF" fill="#67001f"/><use href="#CAN" fill="#d1e5f0"/><use href="#CHE" fill="#4393c3"/><use href="#CHL" fill="#92c5de"/><use href="#CHN" fill="#2166ac"/><use href="#CIV" fill="#2166ac"/><use href="#CMR" fill="#b2182b"/><use href="#COD" fill="#67001f"/><use href="#COG" fill="#f4a582"/><use href="#COL" fill="#d1e5f0"/><use href="#COM" fill="#f7f7f7"/><use href="#CPV" fill="#f7f7f7"/><use href="#CRI" fill="#92c5de"/><use href="#CUB" fill="#d1e5f0"/><use href="#CYP" fill="#2166ac"/><use href="#CZE" fill="#4393c3"/><use href="#DEU" fill="#4393c3"/><use href="#DJI" fill="#d6604d"/><use href="#DMA" fill="#f7f7f7"/><use href="#DNK" fill="#92c5de"/><use href="#DOM" fill="#d6604d"/><use href="#DZA" fill="#d1e5f0"/><use href="#ECU" fill="#2166ac"/><use href="#EGY" fill="#f7f7f7"/><use href="#ERI" fill="#b2182b"/><use href="#ESH" fill="#f7f7f7"/><use href="#ESP" fill="#2166ac"/><use href="#EST" fill="#d1e5f0"/><use href="#ETH" fill="#2166ac"/><use href="#FIN" fill="#4393c3"/><use href="#FJI" fill="#b2182b"/><use href="#FRA" fill="#2166ac"/><use href="#FRO" fill="#f7f7f7"/><use href="#GAB" fill="#d6604d"/><use href="#GBR" fill="#f4a582"/><use href="#GEO" fill="#fddbc7"/><use href="#GHA" fill="#b2182b"/><use href="#GIN" fill="#b2182b"/><use href="#GLP" fill="#f7f7f7"/><use href="#GMB" fill="#d6604d"/><use href="#GNB" fill="#b2182b"/><use href="#GNQ" fill="#2166ac"/><use href="#GRC" fill="#fddbc7"/><use href="#GRD" fill="#f7f7f7"/><use href="#GRL" fill="#f7f7f7"/><use href="#GTM" fill="#2166ac"/><use href="#GUF" fill="#2166ac"/><use href="#GUY" fill="#d6604d"/><use href="#HND" fill="#fddbc7"/><use href="#HRV" fill="#2166ac"/><use href="#HTI" fill="#d6604d"/><use href="#HUN" fill="#2166ac"/><use href="#IDN" fill="#d6604d"/><use href="#IND" fill="#fddbc7"/><use href="#IRL" fill="#4393c3"/><use href="#IRN" fill="#fddbc7"/><use href="#IRQ" fill="#92c5de"/><use href="#ISL" fill="#92c5de"/><use href="#ISR" fill="#92c5de"/><use href="#ITA" fill="#92c5de"/><use href="#JAM" fill="#f7f7f7"/><use href="#JOR" fill="#92c5de"/><use href="#JPN" fill="#4393c3"/><use href="#KAZ" fill="#2166ac"/><use href="#KEN" fill="#67001f"/><use href="#KGZ" fill="#f4a582"/><use href="#KHM" fill="#f7f7f7"/><use href="#KOR" fill="#2166ac"/><use href="#KWT" fill="#f7f7f7"/><use href="#LAO" fill="#92c5de"/><use href="#LBN" fill="#d1e5f0"/><use href="#LBR" fill="#f7f7f7"/><use href="#LBY" fill="#b2182b"/><use href="#LCA" fill="#f7f7f7"/><use href="#LKA" fill="#92c5de"/><use href="#LSO" fill="#67001f"/><use href="#LTU" fill="#f4a582"/><use href="#LUX" fill="#4393c3"/><use href="#LVA" fill="#f7f7f7"/><use href="#MAR" fill="#f7f7f7"/><use href="#MDA" fill="#b2182b"/><use href="#MDG" fill="#b2182b"/><use href="#MEX" fill="#4393c3"/><use href="#MKD" fill="#4393c3"/><use href="#MLI" fill="#d6604d"/><use href="#MLT" fill="#f7f7f7"/><use href="#MMR" fill="#4393c3"/><use href="#MNE" fill="#f4a582"/><use href="#MNG" fill="#f7f7f7"/><use href="#MOZ" fill="#67001f"/><use href="#MRT" fill="#d1e5f0"/><use href="#MTQ" fill="#f7f7f7"/><use href="#MUS" fill="#f7f7f7"/><use href="#MWI" fill="#2166ac"/><use href="#MYS" fill="#f7f7f7"/><use href="#NAM" fill="#b2182b"/><use href="#NCL" fill="#2166ac"/><use href="#NER" fill="#f4a582"/><use href="#NGA" fill="#f4a582"/><use href="#NIC" fill="#4393c3"/><use href="#NLD" fill="#92c5de"/><use href="#NOR" fill="#f4a582"/><use href="#NPL" fill="#92c5de"/><use href="#NZL" fill="#2166ac"/><use href="#OMN" fill="#92c5de"/><use href="#PAK" fill="#d6604d"/><use href="#PAN" fill="#f7f7f7"/><use href="#PER" fill="#2166ac"/><use href="#PHL" fill="#67001f"/><use href="#PNG" fill="#67001f"/><use href="#POL" fill="#92c5de"/><use href="#PRI" fill="#2166ac"/><use href="#PRK" fill="#b2182b"/><use href="#PRT" fill="#4393c3"/><use href="#PRY" fill="#b2182b"/><use href="#PSE" fill="#d1e5f0"/><use href="#QAT" fill="#2166ac"/><use href="#REU" fill="#f7f7f7"/><use href="#ROU" fill="#f7f7f7"/><use href="#RUS" fill="#d6604d"/><use href="#RWA" fill="#4393c3"/><use href="#SAU" fill="#d1e5f0"/><use href="#SDN" fill="#d1e5f0"/><use href="#SEN" fill="#d6604d"/><use href="#SLB" fill="#f7f7f7"/><use href="#SLE" fill="#b2182b"/><use href="#SLV" fill="#4393c3"/><use href="#SOM" fill="#67001f"/><use href="#SRB" fill="#4393c3"/><use href="#SSD" fill="#67001f"/><use href="#STP" fill="#f7f7f7"/><use href="#SUR" fill="#fddbc7"/><use href="#SVK" fill="#92c5de"/><use href="#SVN" fill="#4393c3"/><use href="#SWE" fill="#d1e5f0"/><use href="#SWZ" fill="#67001f"/><use href="#SYR" fill="#d1e5f0"/><use href="#TCD" fill="#67001f"/><use href="#TGO" fill="#b2182b"/><use href="#THA" fill="#d1e5f0"/><use href="#TJK" fill="#fddbc7"/><use href="#TKM" fill="#d6604d"/><use href="#TLS" fill="#d6604d"/><use href="#TTO" fill="#f7f7f7"/><use href="#TUN" fill="#d1e5f0"/><use href="#TUR" fill="#2166ac"/><use href="#TWN" fill="#2166ac"/><use href="#TZA" fill="#d6604d"/><use href="#UGA" fill="#d6604d"/><use href="#UKR" fill="#67001f"/><use href="#URY" fill="#d6604d"/><use href="#USA" fill="#d1e5f0"/><use href="#UZB" fill="#f4a582"/><use href="#VCT" fill="#f7f7f7"/><use href="#VEN" fill="#f4a582"/><use href="#VNM" fill="#f7f7f7"/><use href="#VUT" fill="#f7f7f7"/><use href="#XXS" fill="#f7f7f7"/><use href="#YEM" fill="#fddbc7"/><use href="#ZAF" fill="#67001f"/><use href="#ZMB" fill="#2166ac"/><use href="#ZWE" fill="#67001f"/><use href="#t0" fill="#f7f7f7"/><use href="#t1" fill="#92c5de"/><use href="#t2" fill="#92c5de"/><use href="#t3" fill="#92c5de"/><use href="#t4" fill="#92c5de"/><use href="#t5" fill="#92c5de"/><use href="#t6" fill="#92c5de"/><use href="#t7" fill="#92c5de"/><use href="#t8" fill="#92c5de"/><use href="#t9" fill="#92c5de"/><use href="#t10" fill="#92c5de"/><use href="#t11" fill="#92c5de"/><use href="#t12" fill="#92c5de"/><use href="#t13" fill="#92c5de"/><use href="#t14" fill="#92c5de"/><use href="#t15" fill="#92c5de"/><use href="#t16" fill="#92c5de"/><use href="#t17" fill="#92c5de"/><use href="#t18" fill="#92c5de"/><use href="#t19" fill="#92c5de"/><use href="#t20" fill="#92c5de"/><use href="#t21" fill="#92c5de"/><use href="#t22" fill="#92c5de"/><use href="#t23" fill="#92c5de"/><use href="#t24" fill="#92c5de"/><use href="#t25" fill="#92c5de"/><use href="#t26" fill="#92c5de"/><use href="#t27" fill="#92c5de"/><use href="#t28" fill="#92c5de"/><use href="#t29" fill="#92c5de"/><use href="#t30" fill="#92c5de"/><use href="#t31" fill="#92c5de"/><use href="#t32" fill="#92c5de"/><use href="#t33" fill="#92c5de"/><use href="#t34" fill="#92c5de"/><use href="#t35" fill="#92c5de"/><use href="#t36" fill="#92c5de"/><use href="#t37" fill="#92c5de"/><use href="#t38" fill="#92c5de"/><use href="#t39" fill="#92c5de"/><use href="#t40" fill="#92c5de"/><use href="#t41" fill="#92c5de"/><use href="#t42" fill="#92c5de"/><use href="#t43" fill="#f4a582"/><use href="#t44" fill="#f4a582"/><use href="#t45" fill="#f4a582"/><use href="#t46" fill="#f4a582"/><use href="#t47" fill="#f4a582"/><use href="#t48" fill="#f4a582"/><use href="#t49" fill="#f4a582"/><use href="#t50" fill="#f4a582"/><use href="#t51" fill="#f4a582"/><use href="#t52" fill="#f4a582"/><use href="#t53" fill="#f4a582"/><use href="#t54" fill="#f4a582"/><use href="#t55" fill="#f4a582"/><use href="#t56" fill="#f4a582"/><use href="#t57" fill="#f4a582"/><use href="#t58" fill="#f4a582"/><use href="#t59" fill="#d1e5f0"/><use href="#t60" fill="#d1e5f0"/><use href="#t61" fill="#d1e5f0"/><use href="#t62" fill="#d1e5f0"/><use href="#t63" fill="#d1e5f0"/><use href="#t64" fill="#d1e5f0"/><use href="#t65" fill="#d1e5f0"/><use href="#t66" fill="#d1e5f0"/><use href="#t67" fill="#d1e5f0"/><use href="#t68" fill="#d1e5f0"/></g>
</svg>
<svg class="ov" width="744" height="1005" viewBox="0 0 744 1005">
<g font-family="'Liberation Serif',serif" font-weight="bold" fill="#000">
<text transform="translate(0.9,21) scale(0.94,1)" font-size="42.5">a</text>
<text transform="translate(1.3,363.5) scale(0.94,1)" font-size="42.5">b</text>
<text transform="translate(0.4,694.3) scale(0.94,1)" font-size="42.5">c</text>
<text x="5.5" y="174.5" font-size="12.5">EAPCs of</text>
<text x="5.5" y="189.2" font-size="12.5">incidence rate</text>
<text x="5.5" y="522" font-size="12.5">EAPCs of</text>
<text x="5.5" y="537" font-size="12.5">death rate</text>
<text x="5.5" y="863.75" font-size="12.5">EAPCs of</text>
<text x="5.5" y="878.25" font-size="12.5">DALYs rate</text>
<text x="496" y="550.8" font-size="8">Kazakhstan</text>
<text x="657.3" y="524.1" font-size="8">China</text>
</g>
<g font-family="'Liberation Sans',sans-serif" font-size="7.4" fill="#000">
<rect x="7.3" y="205.80" width="15" height="15" fill="#2166ac" stroke="#606060" stroke-width="1.05"/>
<text x="27" y="215.60">0 − −3.804</text>
<rect x="7.3" y="222.05" width="15" height="15" fill="#4393c3" stroke="#606060" stroke-width="1.05"/>
<text x="27" y="231.85">−3.804 − −3.403</text>
<rect x="7.3" y="238.30" width="15" height="15" fill="#92c5de" stroke="#606060" stroke-width="1.05"/>
<text x="27" y="248.10">−3.403 − −3.077</text>
<rect x="7.3" y="254.55" width="15" height="15" fill="#d1e5f0" stroke="#606060" stroke-width="1.05"/>
<text x="27" y="264.35">−3.077 − −2.677</text>
<rect x="7.3" y="270.80" width="15" height="15" fill="#f7f7f7" stroke="#606060" stroke-width="1.05"/>
<text x="27" y="280.60">−2.677 − −2.417</text>
<rect x="85.3" y="205.80" width="15" height="15" fill="#fddbc7" stroke="#606060" stroke-width="1.05"/>
<text x="105" y="215.60">−2.417 − −2.179</text>
<rect x="85.3" y="222.05" width="15" height="15" fill="#f4a582" stroke="#606060" stroke-width="1.05"/>
<text x="105" y="231.85">−2.179 − −1.857</text>
<rect x="85.3" y="238.30" width="15" height="15" fill="#d6604d" stroke="#606060" stroke-width="1.05"/>
<text x="105" y="248.10">−1.857 − −1.625</text>
<rect x="85.3" y="254.55" width="15" height="15" fill="#b2182b" stroke="#606060" stroke-width="1.05"/>
<text x="105" y="264.35">−1.625 − −0.9637</text>
<rect x="85.3" y="270.80" width="15" height="15" fill="#67001f" stroke="#606060" stroke-width="1.05"/>
<text x="105" y="280.60">−0.9637 − 0.816</text>
<rect x="6.55" y="547.80" width="15" height="15" fill="#2166ac" stroke="#606060" stroke-width="1.05"/>
<text x="25.75" y="557.60">0 − −6.469</text>
<rect x="6.55" y="564.05" width="15" height="15" fill="#4393c3" stroke="#606060" stroke-width="1.05"/>
<text x="25.75" y="573.85">−6.469 − −5.724</text>
<rect x="6.55" y="580.30" width="15" height="15" fill="#92c5de" stroke="#606060" stroke-width="1.05"/>
<text x="25.75" y="590.10">−5.724 − −5.38</text>
<rect x="6.55" y="596.55" width="15" height="15" fill="#d1e5f0" stroke="#606060" stroke-width="1.05"/>
<text x="25.75" y="606.35">−5.38 − −4.725</text>
<rect x="6.55" y="612.80" width="15" height="15" fill="#f7f7f7" stroke="#606060" stroke-width="1.05"/>
<text x="25.75" y="622.60">−4.725 − −4.21</text>
<rect x="84.8" y="547.80" width="15" height="15" fill="#fddbc7" stroke="#606060" stroke-width="1.05"/>
<text x="104.25" y="557.60">−4.21 − −3.675</text>
<rect x="84.8" y="564.05" width="15" height="15" fill="#f4a582" stroke="#606060" stroke-width="1.05"/>
<text x="104.25" y="573.85">−3.675 − −3.277</text>
<rect x="84.8" y="580.30" width="15" height="15" fill="#d6604d" stroke="#606060" stroke-width="1.05"/>
<text x="104.25" y="590.10">−3.277 − −2.825</text>
<rect x="84.8" y="596.55" width="15" height="15" fill="#b2182b" stroke="#606060" stroke-width="1.05"/>
<text x="104.25" y="606.35">−2.825 − −1.963</text>
<rect x="84.8" y="612.80" width="15" height="15" fill="#67001f" stroke="#606060" stroke-width="1.05"/>
<text x="104.25" y="622.60">−1.963 − 1.964</text>
<rect x="8.3" y="891.55" width="15" height="15" fill="#2166ac" stroke="#606060" stroke-width="1.05"/>
<text x="27.5" y="901.35">0 − −6.546</text>
<rect x="8.3" y="907.80" width="15" height="15" fill="#4393c3" stroke="#606060" stroke-width="1.05"/>
<text x="27.5" y="917.60">−6.546 − −5.844</text>
<rect x="8.3" y="924.05" width="15" height="15" fill="#92c5de" stroke="#606060" stroke-width="1.05"/>
<text x="27.5" y="933.85">−5.844 − −5.275</text>
<rect x="8.3" y="940.30" width="15" height="15" fill="#d1e5f0" stroke="#606060" stroke-width="1.05"/>
<text x="27.5" y="950.10">−5.275 − −4.772</text>
<rect x="8.3" y="956.55" width="15" height="15" fill="#f7f7f7" stroke="#606060" stroke-width="1.05"/>
<text x="27.5" y="966.35">−4.772 − −4.255</text>
<rect x="86.55" y="891.55" width="15" height="15" fill="#fddbc7" stroke="#606060" stroke-width="1.05"/>
<text x="106.25" y="901.35">−4.255 − −3.817</text>
<rect x="86.55" y="907.80" width="15" height="15" fill="#f4a582" stroke="#606060" stroke-width="1.05"/>
<text x="106.25" y="917.60">−3.817 − −3.501</text>
<rect x="86.55" y="924.05" width="15" height="15" fill="#d6604d" stroke="#606060" stroke-width="1.05"/>
<text x="106.25" y="933.85">−3.501 − −2.893</text>
<rect x="86.55" y="940.30" width="15" height="15" fill="#b2182b" stroke="#606060" stroke-width="1.05"/>
<text x="106.25" y="950.10">−2.893 − −1.99</text>
<rect x="86.55" y="956.55" width="15" height="15" fill="#67001f" stroke="#606060" stroke-width="1.05"/>
<text x="106.25" y="966.35">−1.99 − 1.983</text>
</g>
<g stroke="#111" stroke-width="0.55" fill="#111">
<line x1="517.9" y1="445" x2="513.6" y2="535.5"/><path d="M513.5 538.3L511.6 533.9L515.6 534.1Z" stroke="none"/>
<line x1="588.9" y1="473.3" x2="664.6" y2="511.2"/><path d="M666.8 512.4L662 512.2L663.8 508.6Z" stroke="none"/>
</g>
</svg>
</body></html>
